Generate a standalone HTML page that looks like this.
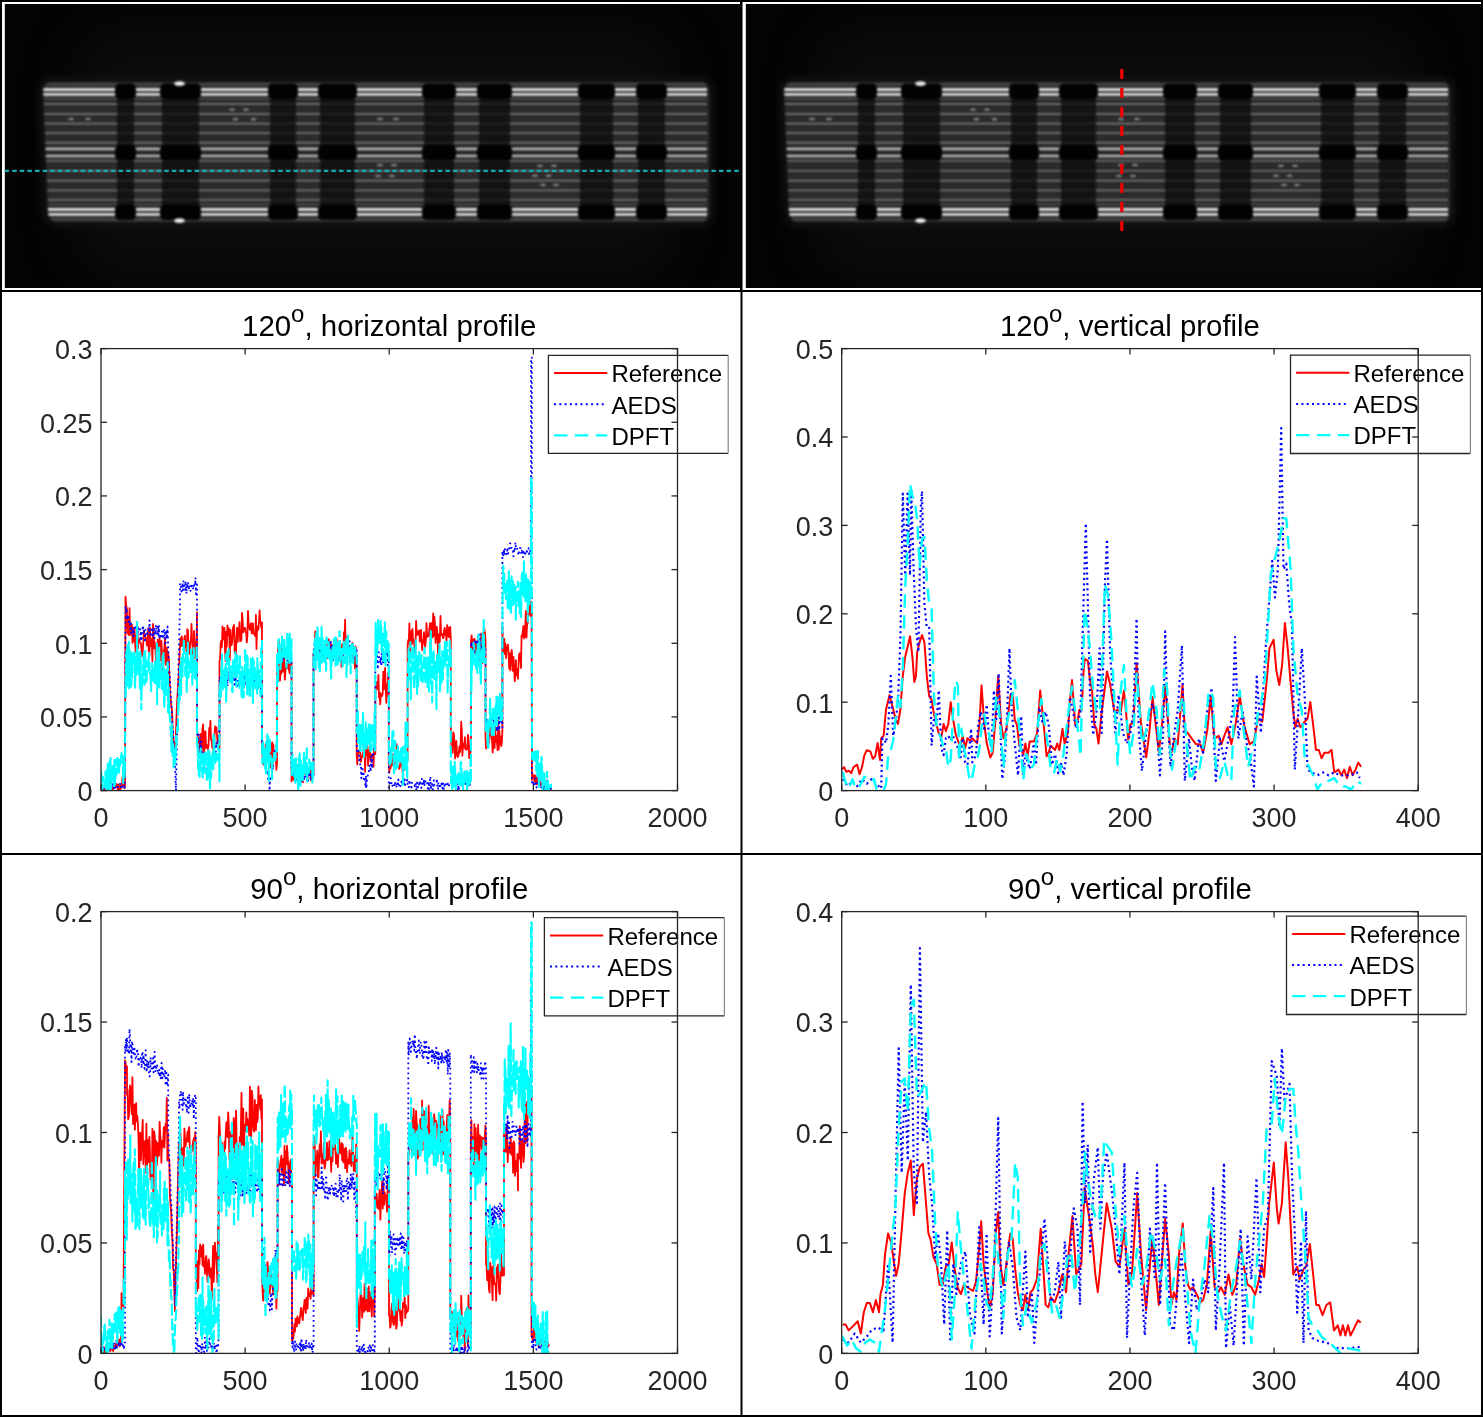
<!DOCTYPE html><html><head><meta charset="utf-8"><title>Profiles</title><style>html,body{margin:0;padding:0;background:#000;overflow:hidden}svg{display:block}</style></head><body><svg width="1483" height="1417" viewBox="0 0 1483 1417" font-family="'Liberation Sans', Arial, Helvetica, sans-serif"><defs><filter id="blur12" color-interpolation-filters="sRGB" x="-30%" y="-80%" width="160%" height="260%"><feGaussianBlur stdDeviation="22"/></filter><filter id="blur4" color-interpolation-filters="sRGB" x="-10%" y="-30%" width="120%" height="160%"><feGaussianBlur stdDeviation="4"/></filter><clipPath id="blkclip"><path d="M52,82.2 L700,82.2 Q709.5,82.2 709.5,92 L709.5,212 Q709.5,221.8 700,221.8 L58,221.8 Q48.5,221.8 48,212 L43.2,92 Q43,82.2 52,82.2 Z"/></clipPath><filter id="blur09" color-interpolation-filters="sRGB" x="-5%" y="-10%" width="110%" height="120%"><feGaussianBlur stdDeviation="0.9"/></filter></defs><rect width="1483" height="1417" fill="#000"/><rect x="2" y="2" width="738" height="288" fill="#fff"/><rect x="742.5" y="2" width="738.5" height="288" fill="#fff"/><rect x="2" y="292" width="738.5" height="561" fill="#fff"/><rect x="742.5" y="292" width="738.5" height="561" fill="#fff"/><rect x="2" y="855" width="738.5" height="560" fill="#fff"/><rect x="742.5" y="855" width="738.5" height="560" fill="#fff"/><clipPath id="c1"><rect x="4.6" y="4" width="736.40" height="284"/></clipPath><g clip-path="url(#c1)"><rect x="4.6" y="4" width="736.40" height="284" fill="#040404"/><g transform="translate(0,0)"><rect x="70" y="25" width="610" height="255" rx="60" fill="#0b0b0b" filter="url(#blur12)"/><path d="M52,82.2 L700,82.2 Q709.5,82.2 709.5,92 L709.5,212 Q709.5,221.8 700,221.8 L58,221.8 Q48.5,221.8 48,212 L43.2,92 Q43,82.2 52,82.2 Z" fill="none" stroke="#1a1a1a" stroke-width="6" filter="url(#blur4)"/><g filter="url(#blur09)"><path d="M52,82.2 L700,82.2 Q709.5,82.2 709.5,92 L709.5,212 Q709.5,221.8 700,221.8 L58,221.8 Q48.5,221.8 48,212 L43.2,92 Q43,82.2 52,82.2 Z" fill="#272727"/><g clip-path="url(#blkclip)"><rect x="40" y="82.60" width="667" height="3.2" fill="#464646"/><rect x="40" y="88.20" width="667" height="2.8" fill="#ececec"/><rect x="40" y="93.00" width="667" height="2.8" fill="#e0e0e0"/><rect x="40" y="98.10" width="667" height="1.4" fill="#5a5a5a"/><rect x="40" y="103.10" width="667" height="1.8" fill="#7c7c7c"/><rect x="40" y="108.90" width="667" height="1.0" fill="#3a3a3a"/><rect x="40" y="113.10" width="667" height="1.8" fill="#7c7c7c"/><rect x="40" y="118.30" width="667" height="1.0" fill="#3a3a3a"/><rect x="40" y="122.70" width="667" height="1.8" fill="#7c7c7c"/><rect x="40" y="127.90" width="667" height="1.0" fill="#383838"/><rect x="40" y="132.10" width="667" height="1.8" fill="#7c7c7c"/><rect x="40" y="137.30" width="667" height="1.0" fill="#383838"/><rect x="40" y="141.80" width="667" height="1.8" fill="#7c7c7c"/><rect x="40" y="147.70" width="667" height="2.4" fill="#c4c4c4"/><rect x="40" y="154.80" width="667" height="2.4" fill="#bcbcbc"/><rect x="40" y="160.00" width="667" height="1.6" fill="#747474"/><rect x="40" y="165.30" width="667" height="1.0" fill="#383838"/><rect x="40" y="170.00" width="667" height="1.6" fill="#747474"/><rect x="40" y="175.30" width="667" height="1.0" fill="#383838"/><rect x="40" y="179.70" width="667" height="1.8" fill="#787878"/><rect x="40" y="185.10" width="667" height="1.0" fill="#383838"/><rect x="40" y="189.50" width="667" height="1.8" fill="#787878"/><rect x="40" y="194.70" width="667" height="1.0" fill="#383838"/><rect x="40" y="198.90" width="667" height="1.8" fill="#787878"/><rect x="40" y="203.70" width="667" height="1.4" fill="#555"/><rect x="40" y="208.00" width="667" height="2.8" fill="#eaeaea"/><rect x="40" y="213.00" width="667" height="2.8" fill="#dedede"/><rect x="40" y="218.00" width="667" height="3.2" fill="#464646"/></g><rect x="117" y="84" width="17" height="136" fill="#0a0a0a" opacity="0.76"/><rect x="115" y="83.5" width="21" height="15.5" rx="5" fill="#020202"/><rect x="115" y="145" width="21" height="15.5" rx="5" fill="#020202"/><rect x="115" y="204.5" width="21" height="15.5" rx="5" fill="#020202"/><rect x="162" y="84" width="37" height="136" fill="#0a0a0a" opacity="0.76"/><rect x="160" y="83.5" width="41" height="15.5" rx="5" fill="#020202"/><rect x="160" y="145" width="41" height="15.5" rx="5" fill="#020202"/><rect x="160" y="204.5" width="41" height="15.5" rx="5" fill="#020202"/><rect x="270" y="84" width="26" height="136" fill="#0a0a0a" opacity="0.76"/><rect x="268" y="83.5" width="30" height="15.5" rx="5" fill="#020202"/><rect x="268" y="145" width="30" height="15.5" rx="5" fill="#020202"/><rect x="268" y="204.5" width="30" height="15.5" rx="5" fill="#020202"/><rect x="320" y="84" width="35" height="136" fill="#0a0a0a" opacity="0.76"/><rect x="318" y="83.5" width="39" height="15.5" rx="5" fill="#020202"/><rect x="318" y="145" width="39" height="15.5" rx="5" fill="#020202"/><rect x="318" y="204.5" width="39" height="15.5" rx="5" fill="#020202"/><rect x="424" y="84" width="30" height="136" fill="#0a0a0a" opacity="0.76"/><rect x="422" y="83.5" width="34" height="15.5" rx="5" fill="#020202"/><rect x="422" y="145" width="34" height="15.5" rx="5" fill="#020202"/><rect x="422" y="204.5" width="34" height="15.5" rx="5" fill="#020202"/><rect x="479" y="84" width="31" height="136" fill="#0a0a0a" opacity="0.76"/><rect x="477" y="83.5" width="35" height="15.5" rx="5" fill="#020202"/><rect x="477" y="145" width="35" height="15.5" rx="5" fill="#020202"/><rect x="477" y="204.5" width="35" height="15.5" rx="5" fill="#020202"/><rect x="580" y="84" width="33" height="136" fill="#0a0a0a" opacity="0.76"/><rect x="578" y="83.5" width="37" height="15.5" rx="5" fill="#020202"/><rect x="578" y="145" width="37" height="15.5" rx="5" fill="#020202"/><rect x="578" y="204.5" width="37" height="15.5" rx="5" fill="#020202"/><rect x="638" y="84" width="27" height="136" fill="#0a0a0a" opacity="0.76"/><rect x="636" y="83.5" width="31" height="15.5" rx="5" fill="#020202"/><rect x="636" y="145" width="31" height="15.5" rx="5" fill="#020202"/><rect x="636" y="204.5" width="31" height="15.5" rx="5" fill="#020202"/><rect x="68.5" y="118.2" width="5" height="1.6" fill="#b0b0b0"/><rect x="85.5" y="118.2" width="5" height="1.6" fill="#b0b0b0"/><rect x="229.5" y="108.8" width="5" height="1.6" fill="#b0b0b0"/><rect x="243.5" y="108.8" width="5" height="1.6" fill="#b0b0b0"/><rect x="233.0" y="118.5" width="5" height="1.6" fill="#b0b0b0"/><rect x="251.0" y="118.5" width="5" height="1.6" fill="#b0b0b0"/><rect x="377.5" y="118.2" width="5" height="1.6" fill="#b0b0b0"/><rect x="393.5" y="118.2" width="5" height="1.6" fill="#b0b0b0"/><rect x="377.5" y="164.2" width="5" height="1.6" fill="#b0b0b0"/><rect x="391.5" y="164.2" width="5" height="1.6" fill="#b0b0b0"/><rect x="375.5" y="175.2" width="5" height="1.6" fill="#b0b0b0"/><rect x="389.5" y="175.2" width="5" height="1.6" fill="#b0b0b0"/><rect x="537.5" y="165.0" width="5" height="1.6" fill="#b0b0b0"/><rect x="551.5" y="165.0" width="5" height="1.6" fill="#b0b0b0"/><rect x="532.5" y="174.89999999999998" width="5" height="1.6" fill="#b0b0b0"/><rect x="546.0" y="174.89999999999998" width="5" height="1.6" fill="#b0b0b0"/><rect x="540.5" y="184.2" width="5" height="1.6" fill="#b0b0b0"/><rect x="553.5" y="184.2" width="5" height="1.6" fill="#b0b0b0"/><ellipse cx="179.5" cy="83.6" rx="5.5" ry="2.3" fill="#eee"/><ellipse cx="179.5" cy="220.6" rx="5.5" ry="2.3" fill="#eee"/></g></g></g><clipPath id="c2"><rect x="745.6" y="4" width="735.40" height="284"/></clipPath><g clip-path="url(#c2)"><rect x="745.6" y="4" width="735.40" height="284" fill="#040404"/><g transform="translate(741,0)"><rect x="70" y="25" width="610" height="255" rx="60" fill="#0b0b0b" filter="url(#blur12)"/><path d="M52,82.2 L700,82.2 Q709.5,82.2 709.5,92 L709.5,212 Q709.5,221.8 700,221.8 L58,221.8 Q48.5,221.8 48,212 L43.2,92 Q43,82.2 52,82.2 Z" fill="none" stroke="#1a1a1a" stroke-width="6" filter="url(#blur4)"/><g filter="url(#blur09)"><path d="M52,82.2 L700,82.2 Q709.5,82.2 709.5,92 L709.5,212 Q709.5,221.8 700,221.8 L58,221.8 Q48.5,221.8 48,212 L43.2,92 Q43,82.2 52,82.2 Z" fill="#272727"/><g clip-path="url(#blkclip)"><rect x="40" y="82.60" width="667" height="3.2" fill="#464646"/><rect x="40" y="88.20" width="667" height="2.8" fill="#ececec"/><rect x="40" y="93.00" width="667" height="2.8" fill="#e0e0e0"/><rect x="40" y="98.10" width="667" height="1.4" fill="#5a5a5a"/><rect x="40" y="103.10" width="667" height="1.8" fill="#7c7c7c"/><rect x="40" y="108.90" width="667" height="1.0" fill="#3a3a3a"/><rect x="40" y="113.10" width="667" height="1.8" fill="#7c7c7c"/><rect x="40" y="118.30" width="667" height="1.0" fill="#3a3a3a"/><rect x="40" y="122.70" width="667" height="1.8" fill="#7c7c7c"/><rect x="40" y="127.90" width="667" height="1.0" fill="#383838"/><rect x="40" y="132.10" width="667" height="1.8" fill="#7c7c7c"/><rect x="40" y="137.30" width="667" height="1.0" fill="#383838"/><rect x="40" y="141.80" width="667" height="1.8" fill="#7c7c7c"/><rect x="40" y="147.70" width="667" height="2.4" fill="#c4c4c4"/><rect x="40" y="154.80" width="667" height="2.4" fill="#bcbcbc"/><rect x="40" y="160.00" width="667" height="1.6" fill="#747474"/><rect x="40" y="165.30" width="667" height="1.0" fill="#383838"/><rect x="40" y="170.00" width="667" height="1.6" fill="#747474"/><rect x="40" y="175.30" width="667" height="1.0" fill="#383838"/><rect x="40" y="179.70" width="667" height="1.8" fill="#787878"/><rect x="40" y="185.10" width="667" height="1.0" fill="#383838"/><rect x="40" y="189.50" width="667" height="1.8" fill="#787878"/><rect x="40" y="194.70" width="667" height="1.0" fill="#383838"/><rect x="40" y="198.90" width="667" height="1.8" fill="#787878"/><rect x="40" y="203.70" width="667" height="1.4" fill="#555"/><rect x="40" y="208.00" width="667" height="2.8" fill="#eaeaea"/><rect x="40" y="213.00" width="667" height="2.8" fill="#dedede"/><rect x="40" y="218.00" width="667" height="3.2" fill="#464646"/></g><rect x="117" y="84" width="17" height="136" fill="#0a0a0a" opacity="0.76"/><rect x="115" y="83.5" width="21" height="15.5" rx="5" fill="#020202"/><rect x="115" y="145" width="21" height="15.5" rx="5" fill="#020202"/><rect x="115" y="204.5" width="21" height="15.5" rx="5" fill="#020202"/><rect x="162" y="84" width="37" height="136" fill="#0a0a0a" opacity="0.76"/><rect x="160" y="83.5" width="41" height="15.5" rx="5" fill="#020202"/><rect x="160" y="145" width="41" height="15.5" rx="5" fill="#020202"/><rect x="160" y="204.5" width="41" height="15.5" rx="5" fill="#020202"/><rect x="270" y="84" width="26" height="136" fill="#0a0a0a" opacity="0.76"/><rect x="268" y="83.5" width="30" height="15.5" rx="5" fill="#020202"/><rect x="268" y="145" width="30" height="15.5" rx="5" fill="#020202"/><rect x="268" y="204.5" width="30" height="15.5" rx="5" fill="#020202"/><rect x="320" y="84" width="35" height="136" fill="#0a0a0a" opacity="0.76"/><rect x="318" y="83.5" width="39" height="15.5" rx="5" fill="#020202"/><rect x="318" y="145" width="39" height="15.5" rx="5" fill="#020202"/><rect x="318" y="204.5" width="39" height="15.5" rx="5" fill="#020202"/><rect x="424" y="84" width="30" height="136" fill="#0a0a0a" opacity="0.76"/><rect x="422" y="83.5" width="34" height="15.5" rx="5" fill="#020202"/><rect x="422" y="145" width="34" height="15.5" rx="5" fill="#020202"/><rect x="422" y="204.5" width="34" height="15.5" rx="5" fill="#020202"/><rect x="479" y="84" width="31" height="136" fill="#0a0a0a" opacity="0.76"/><rect x="477" y="83.5" width="35" height="15.5" rx="5" fill="#020202"/><rect x="477" y="145" width="35" height="15.5" rx="5" fill="#020202"/><rect x="477" y="204.5" width="35" height="15.5" rx="5" fill="#020202"/><rect x="580" y="84" width="33" height="136" fill="#0a0a0a" opacity="0.76"/><rect x="578" y="83.5" width="37" height="15.5" rx="5" fill="#020202"/><rect x="578" y="145" width="37" height="15.5" rx="5" fill="#020202"/><rect x="578" y="204.5" width="37" height="15.5" rx="5" fill="#020202"/><rect x="638" y="84" width="27" height="136" fill="#0a0a0a" opacity="0.76"/><rect x="636" y="83.5" width="31" height="15.5" rx="5" fill="#020202"/><rect x="636" y="145" width="31" height="15.5" rx="5" fill="#020202"/><rect x="636" y="204.5" width="31" height="15.5" rx="5" fill="#020202"/><rect x="68.5" y="118.2" width="5" height="1.6" fill="#b0b0b0"/><rect x="85.5" y="118.2" width="5" height="1.6" fill="#b0b0b0"/><rect x="229.5" y="108.8" width="5" height="1.6" fill="#b0b0b0"/><rect x="243.5" y="108.8" width="5" height="1.6" fill="#b0b0b0"/><rect x="233.0" y="118.5" width="5" height="1.6" fill="#b0b0b0"/><rect x="251.0" y="118.5" width="5" height="1.6" fill="#b0b0b0"/><rect x="377.5" y="118.2" width="5" height="1.6" fill="#b0b0b0"/><rect x="393.5" y="118.2" width="5" height="1.6" fill="#b0b0b0"/><rect x="377.5" y="164.2" width="5" height="1.6" fill="#b0b0b0"/><rect x="391.5" y="164.2" width="5" height="1.6" fill="#b0b0b0"/><rect x="375.5" y="175.2" width="5" height="1.6" fill="#b0b0b0"/><rect x="389.5" y="175.2" width="5" height="1.6" fill="#b0b0b0"/><rect x="537.5" y="165.0" width="5" height="1.6" fill="#b0b0b0"/><rect x="551.5" y="165.0" width="5" height="1.6" fill="#b0b0b0"/><rect x="532.5" y="174.89999999999998" width="5" height="1.6" fill="#b0b0b0"/><rect x="546.0" y="174.89999999999998" width="5" height="1.6" fill="#b0b0b0"/><rect x="540.5" y="184.2" width="5" height="1.6" fill="#b0b0b0"/><rect x="553.5" y="184.2" width="5" height="1.6" fill="#b0b0b0"/><ellipse cx="179.5" cy="83.6" rx="5.5" ry="2.3" fill="#eee"/><ellipse cx="179.5" cy="220.6" rx="5.5" ry="2.3" fill="#eee"/></g></g></g><line x1="4.6" y1="170.9" x2="741" y2="170.9" stroke="#1aa8a8" stroke-width="2.4" stroke-dasharray="4.5 3.1"/><line x1="1121.8" y1="68.9" x2="1121.8" y2="231" stroke="#f00000" stroke-width="3.2" stroke-dasharray="10.2 8.8"/><clipPath id="clML"><rect x="101.0" y="346.6" width="576.5" height="444.0"/></clipPath><g clip-path="url(#clML)"><polyline points="101.0,790.6 101.6,789.5 102.2,787.7 102.8,790.6 103.4,790.6 104.0,790.0 104.6,788.4 105.2,786.7 105.8,790.6 106.4,790.6 107.0,787.3 107.6,787.7 108.2,784.8 108.8,786.1 109.4,788.8 110.0,789.1 110.6,781.4 111.2,788.9 111.8,790.0 112.4,790.6 113.0,787.4 113.6,787.1 114.2,788.3 114.8,787.4 115.4,786.3 116.0,785.1 116.6,783.9 117.2,786.1 117.8,790.6 118.4,784.5 119.0,789.9 119.6,786.5 120.2,789.8 120.8,785.7 121.4,787.7 122.0,784.9 122.6,776.5 123.2,785.3 123.8,782.8 124.4,788.4 125.0,785.5 125.5,596.7 126.2,605.3 127.0,609.5 127.0,620.1 127.6,633.5 128.2,618.6 128.8,634.9 129.5,608.1 130.1,635.0 130.7,624.1 131.3,633.0 131.9,624.7 132.5,642.9 133.2,627.6 133.8,641.2 134.4,628.2 135.0,636.6 135.0,641.8 135.6,651.8 136.2,635.6 136.8,638.9 137.4,626.7 138.0,648.3 138.6,638.7 139.2,639.4 139.8,642.0 140.4,643.0 141.0,643.5 141.6,652.0 142.2,656.6 142.8,650.3 143.4,640.0 144.0,630.5 144.6,636.3 145.2,635.7 145.8,638.9 146.4,639.9 147.0,645.6 147.6,639.6 148.2,629.2 148.8,651.7 149.4,655.8 150.0,627.8 150.6,646.2 151.2,638.8 151.8,640.0 152.4,661.5 153.0,623.9 153.6,631.1 154.2,648.2 154.8,642.4 155.4,649.2 156.0,660.1 156.6,652.2 157.2,647.2 157.8,639.6 158.4,644.1 159.0,651.2 159.6,637.7 160.2,660.3 160.8,644.1 161.4,640.9 162.0,656.0 162.6,672.1 163.2,663.0 163.8,651.0 164.4,648.2 165.0,637.6 165.6,664.8 166.2,654.4 166.8,647.7 167.4,656.5 168.0,680.2 168.0,652.2 168.7,657.5 169.3,672.7 170.0,690.1 170.6,698.9 171.3,707.3 172.0,709.9 172.6,727.1 173.3,739.5 173.9,745.0 174.6,761.4 174.6,754.6 175.2,750.5 175.8,736.6 176.4,719.3 177.0,703.7 177.6,693.3 178.2,681.5 178.8,675.9 179.4,658.9 180.0,645.4 180.0,648.0 180.6,638.1 181.2,646.2 181.8,636.3 182.4,642.5 183.0,646.2 183.6,642.2 184.2,639.5 184.9,635.7 185.5,647.5 186.1,645.3 186.7,655.3 187.3,629.1 187.9,630.4 188.5,644.8 189.1,647.5 189.7,654.2 190.3,641.8 190.9,641.4 191.5,624.0 192.1,641.1 192.8,650.1 193.4,664.9 194.0,630.8 194.6,641.6 195.2,657.5 195.8,641.7 196.4,657.5 197.0,612.5 197.0,729.1 197.6,734.0 198.2,740.6 198.8,757.9 199.4,740.2 200.0,752.8 200.6,733.8 201.3,757.9 201.9,747.1 202.5,728.3 203.1,724.5 203.7,749.5 204.3,752.6 204.9,731.3 205.5,731.5 206.1,747.8 206.7,745.2 207.3,745.2 207.9,749.5 208.6,745.0 209.2,728.0 209.8,732.9 210.4,720.9 211.0,739.8 211.6,740.2 212.2,747.7 212.8,740.1 213.4,750.6 214.0,754.7 214.6,732.9 215.2,726.3 215.9,731.6 216.5,727.3 217.1,736.8 217.7,745.4 218.3,738.3 218.9,742.3 219.5,748.9 219.5,661.2 220.1,658.7 220.7,642.7 221.3,640.7 221.9,647.0 222.5,626.5 223.1,639.5 223.8,634.9 224.4,627.8 225.0,649.1 225.6,661.0 226.2,631.8 226.8,646.8 227.4,625.3 228.0,635.3 228.6,627.9 229.2,630.1 229.8,660.0 230.4,630.0 231.0,644.4 231.6,645.0 232.2,641.3 232.9,628.2 233.5,626.6 234.1,625.0 234.7,653.0 235.3,641.3 235.9,659.9 236.5,635.5 237.1,627.7 237.7,641.9 238.3,630.9 238.9,630.7 239.5,622.2 240.1,641.2 240.8,641.0 241.4,640.0 242.0,613.0 242.6,619.7 243.2,632.3 243.8,628.2 244.4,629.1 245.0,627.9 245.6,631.9 246.2,632.9 246.8,642.4 247.4,635.6 248.0,610.9 248.6,622.4 249.2,627.1 249.9,629.8 250.5,626.5 251.1,623.1 251.7,633.4 252.3,624.1 252.9,623.4 253.5,633.5 254.1,633.6 254.7,635.6 255.3,635.9 255.9,614.9 256.5,649.0 257.1,626.5 257.8,629.9 258.4,629.6 259.0,621.7 259.6,610.5 260.2,621.3 260.8,623.3 261.4,628.0 262.0,622.5 262.0,745.7 262.6,757.3 263.2,763.9 263.8,764.9 264.4,763.6 265.0,766.1 265.6,744.1 266.2,750.6 266.8,755.9 267.4,740.9 268.0,759.6 268.6,747.1 269.2,746.7 269.8,767.4 270.4,767.5 271.0,762.0 271.6,745.8 272.2,742.3 272.8,764.6 273.4,744.5 274.0,757.2 274.6,757.2 275.2,758.6 275.8,756.6 276.4,769.8 277.0,762.6 277.0,676.3 277.6,661.0 278.2,646.9 278.8,641.2 279.4,668.3 280.0,680.6 280.6,669.0 281.2,673.7 281.8,647.8 282.4,660.3 283.0,671.8 283.6,657.1 284.2,660.6 284.9,679.7 285.5,670.1 286.1,667.5 286.7,665.2 287.3,664.2 287.9,668.4 288.5,663.7 289.1,670.5 289.7,673.3 290.3,652.0 290.9,662.2 291.5,661.5 291.5,781.4 292.1,773.8 292.7,768.6 293.3,779.8 293.9,767.1 294.6,775.0 295.2,770.8 295.8,773.6 296.4,771.8 297.0,766.5 297.6,775.1 298.2,764.6 298.8,777.1 299.4,777.9 300.1,769.1 300.7,778.6 301.3,774.9 301.9,768.1 302.5,766.5 303.1,782.3 303.7,770.2 304.3,762.9 304.9,766.6 305.6,774.2 306.2,776.1 306.8,774.5 307.4,779.0 308.0,774.3 308.6,773.9 309.2,773.7 309.8,766.6 310.4,774.1 311.1,780.7 311.7,767.3 312.3,778.6 312.9,775.3 313.5,773.6 313.5,653.7 314.1,659.5 314.7,652.8 315.3,631.3 315.9,656.0 316.5,651.8 317.2,640.7 317.8,644.1 318.4,643.9 319.0,643.0 319.6,668.0 320.2,658.3 320.8,649.5 321.4,646.2 322.0,639.2 322.6,646.5 323.2,652.7 323.8,650.3 324.5,652.5 325.1,648.4 325.7,644.7 326.3,653.6 326.9,657.8 327.5,658.2 328.1,640.9 328.7,639.3 329.3,641.9 329.9,643.1 330.5,643.3 331.1,650.7 331.8,644.8 332.4,659.9 333.0,652.4 333.6,657.1 334.2,644.2 334.8,655.8 335.4,651.6 336.0,647.1 336.6,638.7 337.2,657.6 337.8,658.9 338.4,643.4 339.1,660.4 339.7,646.6 340.3,655.7 340.9,651.6 341.5,666.7 342.1,644.3 342.7,655.1 343.3,658.6 343.9,632.3 344.5,644.3 345.1,619.6 345.7,647.0 346.4,653.7 347.0,649.7 347.6,636.4 348.2,650.9 348.8,646.6 349.4,646.1 350.0,658.7 350.6,649.5 351.2,655.1 351.8,661.6 352.4,642.9 353.0,644.7 353.7,650.0 354.3,658.7 354.9,668.4 355.5,646.3 356.1,651.5 356.7,665.5 356.7,754.2 357.3,764.5 357.9,754.0 358.5,752.8 359.1,751.3 359.7,752.2 360.3,752.6 360.9,761.8 361.5,756.5 362.1,757.4 362.7,755.4 363.3,751.9 363.9,749.4 364.5,742.2 365.1,771.9 365.7,750.9 366.3,755.2 366.9,737.7 367.5,747.2 368.1,765.5 368.7,750.9 369.3,757.4 369.9,746.7 370.5,761.2 371.1,754.5 371.7,754.7 372.3,754.5 372.9,757.9 373.5,766.8 374.1,750.5 374.7,746.7 375.3,754.2 375.3,696.5 375.9,685.7 376.5,682.5 377.1,689.0 377.8,687.6 378.4,675.0 379.0,697.4 379.6,692.4 380.2,704.3 380.8,693.7 381.4,694.0 382.1,696.0 382.7,693.6 383.3,671.6 383.9,689.2 384.5,688.5 385.1,668.0 385.7,688.0 386.3,702.8 387.0,683.9 387.6,695.8 388.2,673.0 388.8,698.5 388.8,765.2 389.4,772.5 390.0,760.4 390.6,768.3 391.2,761.6 391.8,763.8 392.4,765.5 393.0,754.5 393.7,754.5 394.3,760.7 394.9,767.5 395.5,768.7 396.1,759.2 396.7,744.2 397.3,764.4 397.9,766.7 398.5,766.1 399.1,768.9 399.7,768.0 400.3,762.6 400.9,751.0 401.5,761.1 402.1,764.7 402.7,772.6 403.4,759.6 404.0,761.3 404.6,769.8 405.2,768.8 405.8,761.4 406.4,754.0 407.0,756.7 407.6,759.7 407.6,646.1 408.2,640.2 408.8,643.0 409.4,623.4 410.0,652.4 410.6,645.5 411.3,630.8 411.9,644.2 412.5,629.0 413.1,641.8 413.7,639.9 414.3,644.3 414.9,653.0 415.5,649.1 416.1,620.8 416.7,634.4 417.3,634.6 417.9,631.3 418.6,634.5 419.2,630.3 419.8,641.5 420.4,640.9 421.0,630.0 421.6,641.6 422.2,650.0 422.8,640.1 423.4,642.7 424.0,632.2 424.6,643.8 425.2,646.6 425.9,640.0 426.5,623.1 427.1,637.0 427.7,635.0 428.3,636.1 428.9,633.4 429.5,627.6 430.1,623.2 430.7,649.9 431.3,623.1 431.9,635.0 432.5,637.6 433.2,613.3 433.8,635.8 434.4,616.9 435.0,625.4 435.6,642.8 436.2,629.2 436.8,626.8 437.4,634.2 438.0,653.5 438.6,635.7 439.2,634.2 439.8,642.1 440.5,615.9 441.1,634.0 441.7,635.1 442.3,634.1 442.9,638.2 443.5,637.9 444.1,630.0 444.7,627.8 445.3,634.9 445.9,631.0 446.5,642.3 447.1,625.2 447.8,636.2 448.4,627.5 449.0,637.2 449.6,633.5 450.2,626.8 450.8,639.2 450.8,724.6 451.4,746.7 452.0,747.0 452.6,752.9 453.2,732.3 453.9,734.1 454.5,743.8 455.1,758.5 455.7,750.9 456.3,741.0 456.9,750.9 457.5,756.9 458.1,756.9 458.8,753.2 459.4,746.3 460.0,752.1 460.6,746.2 461.2,721.7 461.8,730.7 462.4,755.6 463.0,743.4 463.7,745.6 464.3,747.6 464.9,737.2 465.5,749.3 466.1,749.3 466.7,749.7 467.3,747.3 467.9,735.0 468.6,739.5 469.2,758.3 469.8,750.3 470.4,753.5 471.0,739.2 471.0,641.3 471.6,635.4 472.2,643.8 472.8,660.1 473.4,639.3 474.0,641.3 474.6,638.8 475.2,654.8 475.8,642.5 476.4,649.3 477.0,649.3 477.6,640.1 478.2,640.2 478.9,651.2 479.5,658.4 480.1,665.1 480.7,648.4 481.3,633.3 481.9,643.8 482.5,663.2 483.1,650.9 483.7,639.5 484.3,628.5 484.9,632.9 485.5,640.0 485.5,737.3 486.1,748.4 486.7,743.0 487.3,742.0 487.9,745.9 488.5,738.5 489.1,742.5 489.7,736.1 490.3,726.4 490.9,732.5 491.5,735.3 492.1,741.2 492.7,752.5 493.3,740.0 493.9,734.2 494.6,747.9 495.2,727.9 495.8,742.0 496.4,735.7 497.0,741.9 497.6,750.1 498.2,720.8 498.8,749.3 499.4,730.9 500.0,743.9 500.6,736.6 501.2,746.2 501.8,742.7 502.4,730.9 502.4,626.1 503.0,652.1 503.6,645.9 504.3,638.9 504.9,654.2 505.5,643.7 506.1,658.2 506.7,647.3 507.3,650.1 508.0,644.6 508.6,653.4 509.2,668.5 509.8,653.5 510.4,670.4 511.1,655.4 511.7,650.0 512.3,659.4 512.9,670.9 513.5,656.8 514.1,667.2 514.8,681.1 515.4,674.5 516.0,660.2 516.0,675.4 516.6,668.7 517.2,669.9 517.9,678.8 518.5,665.5 519.1,654.8 519.7,653.2 520.3,653.6 521.0,668.0 521.6,635.4 522.2,636.9 522.8,631.3 523.4,625.9 524.1,638.4 524.7,636.8 525.3,625.8 525.9,610.8 526.5,637.5 527.2,621.7 527.8,623.1 528.4,608.9 529.0,597.9 529.6,610.5 530.3,615.9 530.9,601.6 531.5,601.6 532.0,780.0 532.6,774.0 533.2,778.2 533.8,775.5 534.5,781.3 535.1,775.3 535.7,782.5 536.3,776.4 536.9,784.5 537.5,776.5 538.1,781.6 538.7,785.2 539.4,782.2 540.0,781.2 540.6,785.1 541.2,784.3 541.8,782.8 542.4,784.4 543.0,790.6 543.6,786.0 544.3,784.2 544.9,785.1 545.5,783.6 546.1,788.6 546.7,780.5 547.3,785.6 547.9,787.4 548.5,785.8 549.2,786.6 549.8,789.4 550.4,790.6 551.0,787.9" fill="none" stroke="#f00" stroke-width="1.8" stroke-linejoin="round"/><polyline points="101.0,790.6 101.5,790.1 102.0,790.6 102.5,790.6 103.0,788.4 103.5,789.9 104.0,790.3 104.5,786.6 105.0,790.5 105.5,790.6 106.0,790.6 106.5,790.2 107.0,788.0 107.5,787.5 108.0,786.9 108.5,785.5 109.0,785.6 109.5,787.3 110.0,786.0 110.5,787.0 111.0,789.1 111.5,786.5 112.0,787.7 112.5,788.1 113.0,784.0 113.5,786.1 114.0,788.2 114.5,787.3 115.0,782.9 115.5,787.4 116.0,785.5 116.5,785.6 117.0,785.7 117.5,785.4 118.0,787.2 118.5,787.0 119.0,786.4 119.5,786.6 120.0,784.4 120.5,783.0 121.0,787.2 121.5,784.5 122.0,787.1 122.5,786.5 123.0,785.5 123.5,784.8 124.0,785.6 124.5,789.4 125.0,782.1 125.5,607.2 126.0,610.7 126.5,608.1 127.0,614.8 127.5,619.9 128.0,615.2 128.5,617.6 129.0,624.2 129.5,620.4 130.0,624.2 130.5,631.7 131.0,623.5 131.0,630.3 131.5,635.4 132.0,629.7 132.5,630.9 133.0,628.0 133.5,636.3 134.0,627.8 134.5,628.2 135.0,629.1 135.5,629.5 136.0,627.0 136.5,629.1 137.0,631.3 137.5,634.8 138.0,627.9 138.5,628.4 139.0,630.9 139.5,631.4 140.0,629.4 140.5,641.1 141.0,630.9 141.5,641.1 142.0,631.3 142.5,628.4 143.0,625.5 143.5,634.0 144.0,630.8 144.5,632.6 145.0,640.4 145.5,629.8 146.0,632.6 146.5,632.3 147.0,636.0 147.5,632.8 148.0,632.4 148.5,628.1 149.0,631.7 149.5,620.3 150.0,634.3 150.5,633.8 151.0,633.1 151.5,635.8 152.0,627.6 152.5,630.7 153.0,637.6 153.5,632.7 154.0,629.0 154.5,638.3 155.0,632.7 155.5,634.1 156.0,624.9 156.5,631.9 157.0,634.8 157.5,635.4 158.0,626.7 158.5,635.2 159.0,625.4 159.5,639.2 160.0,634.3 160.5,634.5 161.0,636.2 161.5,634.5 162.0,631.3 162.5,636.2 163.0,639.0 163.5,629.1 164.0,628.7 164.5,636.5 165.0,632.9 165.5,643.3 166.0,630.4 166.5,638.9 167.0,636.2 167.5,626.5 168.0,638.8 168.0,643.1 168.5,655.0 169.0,666.0 169.5,673.1 170.0,678.1 170.5,691.3 171.0,698.3 171.5,703.7 172.0,715.0 172.5,727.1 173.0,728.4 173.5,741.1 174.0,746.6 174.5,762.1 175.0,763.7 175.5,780.7 176.0,790.6 176.0,787.2 176.5,763.7 177.0,738.6 177.5,717.4 178.0,690.8 178.5,665.5 179.0,647.5 179.5,626.0 180.0,600.0 180.0,583.4 180.5,583.4 181.0,588.6 181.5,591.5 182.0,587.2 182.5,582.8 183.0,590.3 183.5,581.3 184.0,586.1 184.5,585.8 185.0,589.9 185.5,581.0 186.0,586.9 186.5,593.8 187.0,583.4 187.5,589.0 188.0,582.3 188.5,586.3 189.0,589.9 189.5,586.3 190.0,589.3 190.5,590.8 191.0,587.0 191.5,583.4 192.0,586.8 192.5,587.5 193.0,589.6 193.5,584.5 194.0,585.9 194.5,582.8 195.0,585.4 195.5,577.5 196.0,594.1 196.5,587.3 197.0,584.7 197.0,726.6 197.5,741.7 198.0,742.0 198.5,737.7 199.0,733.8 199.6,735.6 200.1,751.6 200.6,744.8 201.1,741.2 201.6,749.4 202.1,757.1 202.6,757.4 203.1,762.7 203.6,751.1 204.2,761.0 204.7,763.9 205.2,768.3 205.7,766.3 206.2,772.5 206.7,774.9 207.2,771.8 207.7,774.9 208.2,773.2 208.2,774.9 208.8,767.3 209.3,771.9 209.8,768.2 210.3,766.4 210.8,769.9 211.3,757.2 211.8,764.6 212.3,768.1 212.9,750.9 213.4,752.0 213.9,756.6 214.4,746.4 214.9,744.4 215.4,743.7 215.9,751.8 216.4,742.6 216.9,747.1 217.5,742.8 218.0,740.5 218.5,740.0 219.0,730.8 219.5,735.7 219.5,677.1 220.0,679.2 220.5,682.6 221.0,679.2 221.5,676.8 222.0,674.8 222.5,681.1 223.0,672.2 223.5,677.4 224.0,674.4 224.5,686.0 225.0,684.6 225.5,674.5 226.0,680.9 226.5,677.8 227.0,674.6 227.5,686.4 228.0,677.9 228.5,671.3 229.0,676.3 229.5,679.5 230.0,677.4 230.5,679.9 231.0,676.5 231.5,674.1 232.0,680.9 232.5,677.4 233.0,678.6 233.5,676.6 234.0,676.2 234.5,684.7 235.0,674.7 235.5,676.1 236.0,684.8 236.5,681.2 237.0,686.4 237.5,681.2 238.0,678.5 238.5,685.1 239.0,683.4 239.5,683.8 240.0,683.0 240.5,683.4 241.0,684.7 241.5,677.4 242.0,680.9 242.5,683.6 243.0,675.5 243.5,682.4 244.0,675.9 244.5,685.4 245.0,673.7 245.5,681.9 246.0,684.1 246.5,678.1 247.0,685.9 247.5,684.7 248.0,678.9 248.5,682.1 249.0,678.1 249.5,679.3 250.0,678.8 250.5,679.3 251.0,676.8 251.5,679.9 252.0,675.0 252.5,675.7 253.0,688.7 253.5,687.7 254.0,673.0 254.5,681.9 255.0,679.1 255.5,680.4 256.0,678.7 256.5,670.1 257.0,683.1 257.5,679.6 258.0,679.9 258.5,684.7 259.0,683.8 259.5,681.1 260.0,680.0 260.5,678.2 261.0,688.7 261.5,686.9 262.0,672.6 262.0,746.9 262.5,745.8 263.0,752.7 263.5,756.2 264.0,748.6 264.5,762.9 265.0,764.2 265.5,761.0 266.0,765.8 266.5,774.2 267.0,770.3 267.5,770.7 268.0,781.2 268.5,780.2 269.0,777.8 269.5,776.3 269.5,790.6 270.0,783.1 270.5,778.1 271.0,779.0 271.5,776.5 272.0,772.6 272.5,766.5 273.0,769.7 273.5,760.4 274.0,758.0 274.5,755.5 275.0,750.6 275.5,755.5 276.0,751.4 276.5,745.2 277.0,741.8 277.0,653.7 277.5,659.8 278.0,660.0 278.5,663.7 279.0,659.8 279.5,661.8 280.0,660.0 280.5,659.5 281.0,654.2 281.5,654.0 282.0,658.1 282.5,662.9 283.0,658.1 283.5,655.9 284.0,654.0 284.5,656.9 285.0,654.3 285.5,660.8 286.0,655.0 286.5,654.6 287.0,659.4 287.5,661.2 288.0,652.4 288.5,662.3 289.0,654.8 289.5,659.0 290.0,659.4 290.5,659.0 291.0,659.8 291.5,658.0 291.5,769.4 292.0,770.6 292.5,776.2 293.0,774.1 293.5,772.5 294.0,777.2 294.5,769.2 295.0,775.6 295.5,773.5 296.0,779.1 296.5,779.7 297.0,779.3 297.5,778.0 298.0,772.1 298.5,776.9 299.0,772.6 299.5,777.2 300.0,779.1 300.5,775.1 301.0,777.1 301.5,781.6 302.0,775.6 302.5,771.6 303.0,776.5 303.5,780.0 304.0,778.4 304.5,780.0 305.0,776.6 305.5,779.1 306.0,776.1 306.5,775.1 307.0,771.0 307.5,779.8 308.0,783.0 308.5,770.0 309.0,774.2 309.5,777.0 310.0,774.0 310.5,779.0 311.0,776.9 311.5,773.3 312.0,776.9 312.5,775.3 313.0,774.2 313.5,775.3 313.5,651.7 314.0,647.7 314.5,643.4 315.0,643.7 315.5,655.1 316.0,646.4 316.5,660.6 317.0,658.0 317.5,648.3 318.0,647.6 318.5,643.2 319.0,659.6 319.5,644.7 320.0,653.3 320.5,652.9 321.0,648.1 321.5,643.0 322.0,655.4 322.5,659.5 323.0,653.6 323.5,651.1 324.0,644.1 324.6,648.5 325.1,652.0 325.6,653.1 326.1,652.9 326.6,645.3 327.1,659.3 327.6,654.1 328.1,655.1 328.6,644.5 329.1,649.8 329.6,654.0 330.1,646.5 330.6,640.1 331.1,645.0 331.6,657.4 332.1,651.6 332.6,644.4 333.1,660.1 333.6,657.0 334.1,652.7 334.6,647.7 335.1,654.8 335.6,649.7 336.1,651.3 336.6,648.8 337.1,656.9 337.6,662.3 338.1,661.9 338.6,649.6 339.1,645.3 339.6,647.9 340.1,659.0 340.6,659.7 341.1,652.0 341.6,655.4 342.1,660.2 342.6,653.6 343.1,654.7 343.6,651.1 344.1,648.5 344.6,649.5 345.1,649.5 345.6,647.7 346.2,651.1 346.7,652.9 347.2,652.3 347.7,644.2 348.2,652.0 348.7,646.2 349.2,641.7 349.7,641.3 350.2,661.9 350.7,649.7 351.2,645.3 351.7,652.9 352.2,654.3 352.7,658.1 353.2,654.1 353.7,650.5 354.2,660.5 354.7,650.6 355.2,655.0 355.7,650.4 356.2,656.3 356.7,650.1 356.7,745.6 357.2,751.5 357.7,753.5 358.2,748.5 358.8,752.1 359.3,760.4 359.8,757.2 360.3,766.3 360.8,765.6 361.4,778.4 361.9,770.1 362.4,766.7 362.9,774.0 363.4,771.4 363.9,779.0 364.4,776.9 365.0,781.0 365.5,786.8 366.0,775.4 366.0,788.4 366.5,788.5 367.0,779.8 367.6,776.2 368.1,774.6 368.6,774.5 369.1,769.8 369.6,765.6 370.1,764.9 370.6,771.6 371.2,755.7 371.7,761.4 372.2,768.2 372.7,753.3 373.2,755.5 373.8,751.5 374.3,741.8 374.8,750.8 375.3,749.1 375.3,663.1 375.8,656.9 376.3,654.4 376.8,655.9 377.3,657.0 377.8,669.2 378.3,656.5 378.8,652.2 379.3,660.6 379.8,660.8 380.3,663.3 380.8,656.6 381.3,666.2 381.8,647.8 382.3,659.0 382.8,661.1 383.3,664.4 383.8,655.1 384.3,652.8 384.8,660.9 385.3,657.0 385.8,656.4 386.3,652.8 386.8,654.7 387.3,651.4 387.8,665.4 388.3,644.1 388.8,660.6 388.8,787.6 389.3,787.1 389.8,783.6 390.3,782.6 390.8,778.2 391.3,781.4 391.8,786.7 392.3,785.6 392.8,785.9 393.3,786.3 393.8,785.1 394.3,786.3 394.8,781.6 395.3,783.8 395.8,783.0 396.3,785.1 396.8,787.7 397.3,783.5 397.8,785.7 398.3,779.4 398.8,781.4 399.3,787.9 399.8,787.3 400.3,786.1 400.8,785.2 401.3,781.6 401.8,785.1 402.3,783.5 402.8,785.5 403.3,785.2 403.8,781.4 404.3,784.6 404.8,779.5 405.3,784.8 405.8,783.6 406.3,783.6 406.8,782.9 407.3,779.6 407.8,786.5 408.3,786.1 408.8,787.2 409.4,779.9 409.9,783.4 410.4,783.5 410.9,783.4 411.4,789.6 411.9,782.6 412.4,784.3 412.9,783.8 413.4,784.4 413.9,784.9 414.4,784.9 414.9,786.2 415.4,785.3 415.9,783.0 416.4,790.3 416.9,782.5 417.4,782.9 417.9,787.5 418.4,783.3 418.9,783.8 419.4,786.0 419.9,780.2 420.4,784.2 420.9,785.0 421.4,788.1 421.9,778.9 422.4,784.1 422.9,783.8 423.4,785.3 423.9,779.2 424.4,785.1 424.9,780.5 425.4,781.9 425.9,782.1 426.4,783.0 426.9,781.6 427.4,785.0 427.9,790.1 428.4,790.6 428.9,781.7 429.4,790.1 429.9,781.1 430.4,776.5 430.9,789.7 431.4,783.0 431.9,783.4 432.4,786.5 432.9,789.9 433.4,784.9 433.9,780.2 434.4,784.9 434.9,784.7 435.4,784.4 435.9,784.5 436.4,783.9 436.9,778.6 437.4,787.0 437.9,789.5 438.4,782.4 438.9,786.0 439.4,786.0 439.9,788.4 440.4,785.1 440.9,785.8 441.4,783.5 441.9,785.7 442.4,788.5 442.9,783.3 443.4,784.9 443.9,789.7 444.4,785.6 444.9,782.6 445.4,784.8 445.9,785.5 446.4,783.1 446.9,786.4 447.4,786.5 447.9,783.3 448.4,785.1 448.9,786.3 449.4,784.1 449.9,784.0 450.4,782.2 451.0,782.0 451.5,784.4 452.0,784.7 452.5,787.1 453.0,784.1 453.5,785.6 454.0,782.4 454.5,782.5 455.0,783.0 455.5,784.8 456.0,783.8 456.5,780.7 457.0,780.1 457.5,786.2 458.0,790.6 458.5,783.0 459.0,788.7 459.5,784.5 460.0,783.4 460.5,780.7 461.0,785.1 461.5,785.0 462.0,786.2 462.5,783.9 463.0,787.9 463.5,783.2 464.0,783.8 464.5,781.1 465.0,785.5 465.5,783.8 466.0,784.1 466.5,784.7 467.0,787.2 467.5,786.1 468.0,784.5 468.5,783.4 469.0,781.9 469.5,786.2 470.0,784.0 470.5,783.0 471.0,782.4 471.0,642.1 471.5,642.2 472.0,644.7 472.5,643.0 473.0,644.0 473.5,650.8 474.0,646.3 474.5,653.7 475.0,640.9 475.5,639.3 476.0,644.7 476.5,642.4 477.0,642.5 477.5,644.2 478.0,636.7 478.5,644.0 479.0,641.7 479.5,643.4 480.0,634.3 480.5,650.3 481.0,642.2 481.5,649.0 482.0,646.3 482.5,647.3 483.0,639.8 483.5,647.9 484.0,647.6 484.5,644.6 485.0,647.3 485.5,647.5 485.5,717.2 486.0,727.1 486.5,727.7 487.0,718.1 487.5,723.8 488.1,719.3 488.6,731.3 489.1,725.5 489.6,722.1 490.1,723.2 490.6,721.8 491.1,718.7 491.6,721.6 492.2,719.3 492.7,720.9 493.2,727.5 493.7,723.3 494.2,718.4 494.7,728.3 495.2,721.8 495.7,721.4 496.3,718.3 496.8,731.5 497.3,713.7 497.8,731.0 498.3,724.2 498.8,713.0 499.3,730.1 499.8,714.3 500.4,722.9 500.9,715.7 501.4,717.8 501.9,723.5 502.4,727.6 502.4,551.4 502.9,554.9 503.4,555.2 503.9,549.0 504.4,555.4 504.9,549.1 505.4,550.6 505.9,550.8 506.4,554.0 506.9,554.7 507.4,547.5 507.9,553.7 508.4,552.4 508.9,551.0 509.4,547.9 509.9,543.4 510.4,543.4 510.9,547.6 511.4,548.0 511.9,548.0 512.4,551.1 512.9,551.1 513.4,556.4 513.9,548.4 514.4,552.1 514.9,549.0 515.4,542.4 515.9,547.3 516.4,546.3 517.0,547.2 517.5,552.3 518.0,552.6 518.5,555.5 519.0,552.4 519.5,549.8 520.0,547.9 520.5,548.3 521.0,551.6 521.5,554.3 522.0,550.2 522.5,549.2 523.0,557.3 523.5,550.0 524.0,555.4 524.5,551.9 525.0,550.8 525.5,553.8 526.0,552.1 526.5,550.3 527.0,553.9 527.5,547.9 528.0,548.0 528.5,548.4 529.0,554.1 529.5,551.0 530.0,551.5 530.5,550.0 531.0,547.7 531.0,357.4 531.4,357.4 531.8,357.4 532.0,782.6 532.5,780.0 533.0,782.2 533.5,786.1 534.0,782.7 534.5,782.5 535.0,784.2 535.5,778.3 536.0,784.6 536.5,787.7 537.0,784.4 537.5,784.8 538.0,783.1 538.5,778.0 539.0,784.6 539.5,783.0 540.0,787.3 540.5,788.1 541.0,787.7 541.5,786.6 542.0,787.5 542.5,786.6 543.0,788.5 543.5,790.2 544.0,789.3 544.5,785.5 545.0,790.6 545.5,785.9 546.0,783.9 546.5,790.6 547.0,786.3 547.5,786.7 548.0,790.6 548.5,787.1 549.0,787.9 549.5,790.6 550.0,785.4 550.5,790.6 551.0,787.1" fill="none" stroke="#00f" stroke-width="1.8" stroke-dasharray="1.8 3.2" stroke-linejoin="round"/><polyline points="101.0,785.5 101.4,770.9 101.7,790.6 102.1,790.6 102.4,780.8 102.8,777.1 103.1,778.8 103.5,777.2 103.8,782.4 104.2,786.2 104.5,787.3 104.9,782.1 105.2,783.1 105.6,771.2 105.9,773.5 106.3,789.8 106.6,772.1 107.0,778.2 107.4,767.6 107.7,763.9 108.1,771.9 108.4,790.6 108.8,770.3 109.1,789.7 109.5,761.5 109.8,781.0 110.2,776.4 110.5,758.1 110.9,789.8 111.2,773.4 111.6,782.9 111.9,777.6 112.3,779.8 112.6,766.2 113.0,774.6 113.4,768.5 113.7,765.5 114.1,786.2 114.4,758.0 114.8,772.4 115.1,784.7 115.5,775.4 115.8,761.4 116.2,759.8 116.5,774.6 116.9,767.2 117.2,765.6 117.6,758.1 117.9,768.3 118.3,757.9 118.6,774.4 119.0,772.5 119.4,759.7 119.7,758.8 120.1,765.4 120.4,759.2 120.8,762.4 121.1,757.0 121.5,753.1 121.8,758.6 122.2,755.5 122.5,766.1 122.9,767.2 123.2,783.0 123.6,757.8 123.9,760.9 124.3,756.0 124.6,777.3 125.0,764.5 125.5,676.2 125.9,694.2 126.2,655.2 126.6,650.7 126.9,686.7 127.3,662.0 127.6,643.5 128.0,686.0 128.3,654.3 128.7,645.7 129.0,641.7 129.4,688.4 129.7,684.1 130.1,665.7 130.4,651.4 130.8,687.0 131.1,679.8 131.5,685.1 131.8,653.0 132.2,677.1 132.5,660.8 132.9,659.8 133.2,652.4 133.6,663.2 133.9,664.4 134.3,652.6 134.6,662.5 135.0,687.7 135.3,677.3 135.7,656.4 136.0,667.6 136.4,674.7 136.7,666.1 137.1,621.7 137.4,670.5 137.8,662.8 138.1,663.3 138.5,673.9 138.8,652.7 139.2,657.6 139.5,664.3 139.9,689.7 140.3,651.9 140.6,659.1 141.0,671.5 141.3,709.4 141.7,671.2 142.0,688.0 142.4,673.8 142.7,677.9 143.1,682.6 143.4,655.9 143.8,669.0 144.1,652.8 144.5,684.8 144.8,673.6 145.2,651.1 145.5,666.2 145.9,681.5 146.2,683.9 146.6,679.7 146.9,672.3 147.3,661.2 147.6,669.1 148.0,660.3 148.3,659.1 148.7,669.6 149.0,652.7 149.4,660.7 149.7,674.2 150.1,673.9 150.4,671.9 150.8,682.4 151.1,691.2 151.5,671.2 151.8,679.3 152.2,663.3 152.5,680.6 152.9,670.5 153.2,669.1 153.6,678.9 154.0,669.3 154.3,682.7 154.7,678.4 155.0,660.6 155.4,666.7 155.7,672.4 156.1,683.8 156.4,662.4 156.8,643.5 157.1,704.2 157.5,657.4 157.8,669.5 158.2,656.8 158.5,655.8 158.9,687.6 159.2,647.6 159.6,681.5 159.9,676.6 160.3,663.9 160.6,674.3 161.0,669.3 161.3,680.7 161.7,688.3 162.0,673.1 162.4,689.2 162.7,653.9 163.1,669.9 163.4,653.1 163.8,691.7 164.1,703.8 164.5,706.8 164.8,679.2 165.2,692.5 165.5,668.6 165.9,695.0 166.2,694.0 166.6,669.9 166.9,679.7 167.3,664.2 167.6,662.4 168.0,669.0 168.0,712.3 168.3,712.4 168.7,687.3 169.1,713.3 169.4,711.9 169.8,716.7 170.1,721.4 170.4,726.0 170.8,732.9 171.2,735.8 171.5,752.7 171.8,722.6 172.2,742.0 172.6,756.3 172.9,743.0 173.2,744.9 173.6,767.4 173.9,762.3 174.3,747.4 174.7,759.3 175.0,763.7 175.0,758.5 175.4,763.0 175.7,758.6 176.1,735.7 176.4,746.1 176.8,739.3 177.1,727.0 177.5,726.7 177.9,732.4 178.2,698.3 178.6,710.3 178.9,687.6 179.3,693.5 179.6,700.6 180.0,672.5 180.0,666.4 180.4,676.3 180.7,664.3 181.1,694.9 181.4,658.0 181.8,674.4 182.1,667.5 182.5,676.8 182.8,654.0 183.2,658.7 183.5,648.2 183.9,639.7 184.2,659.8 184.6,662.5 185.0,659.4 185.3,675.6 185.7,671.8 186.0,652.9 186.4,676.3 186.7,692.0 187.1,669.0 187.4,660.2 187.8,642.6 188.1,674.2 188.5,677.4 188.9,662.5 189.2,666.1 189.6,660.3 189.9,671.4 190.3,661.0 190.6,672.3 191.0,649.6 191.3,659.9 191.7,655.6 192.0,670.3 192.4,684.7 192.8,663.7 193.1,664.7 193.5,648.0 193.8,649.9 194.2,664.4 194.5,664.6 194.9,678.2 195.2,664.5 195.6,660.9 195.9,669.9 196.3,679.6 196.6,645.4 197.0,677.3 197.0,742.1 197.4,747.3 197.7,743.3 198.1,769.2 198.4,753.3 198.8,775.1 199.1,764.0 199.5,776.6 199.8,768.0 200.2,765.5 200.5,749.7 200.9,748.4 201.2,764.1 201.6,763.2 201.9,770.3 202.3,772.4 202.6,779.4 203.0,762.5 203.3,753.7 203.7,768.4 204.0,756.2 204.4,772.6 204.7,771.0 205.1,765.9 205.4,750.6 205.8,765.8 206.1,751.9 206.5,764.0 206.8,772.1 207.2,781.8 207.5,765.3 207.9,770.5 208.2,750.4 208.6,755.5 209.0,777.8 209.3,751.2 209.7,754.5 210.0,790.6 210.4,771.5 210.7,757.6 211.1,777.4 211.4,768.1 211.8,754.7 212.1,757.6 212.5,755.4 212.8,753.7 213.2,769.7 213.5,734.6 213.9,754.7 214.2,737.3 214.6,763.1 214.9,754.3 215.3,756.6 215.6,761.9 216.0,756.9 216.3,757.5 216.7,751.6 217.0,756.9 217.4,759.7 217.7,755.1 218.1,744.8 218.4,759.5 218.8,753.8 219.1,758.8 219.5,781.3 219.5,684.5 219.9,684.7 220.2,691.5 220.6,680.5 220.9,696.8 221.3,667.8 221.6,679.3 222.0,654.2 222.3,666.2 222.7,689.8 223.0,674.8 223.4,671.0 223.7,681.3 224.1,676.8 224.4,687.1 224.8,682.1 225.1,667.7 225.5,676.4 225.8,654.5 226.2,701.8 226.5,683.0 226.9,677.0 227.2,650.7 227.6,655.9 227.9,661.0 228.3,657.9 228.6,649.1 229.0,662.2 229.3,675.1 229.7,669.2 230.0,682.0 230.4,675.0 230.7,666.5 231.1,678.9 231.4,670.3 231.8,678.0 232.1,690.5 232.5,692.2 232.8,662.0 233.2,671.4 233.5,660.1 233.9,673.3 234.3,672.1 234.6,668.1 235.0,676.7 235.3,652.4 235.7,657.7 236.0,666.3 236.4,686.7 236.7,679.6 237.1,669.1 237.4,655.6 237.8,672.6 238.1,672.4 238.5,664.6 238.8,670.4 239.2,674.3 239.5,688.0 239.9,654.8 240.2,672.9 240.6,679.5 240.9,673.6 241.3,690.9 241.6,695.9 242.0,697.4 242.3,667.0 242.7,691.0 243.0,670.7 243.4,689.1 243.7,697.5 244.1,681.1 244.4,682.8 244.8,682.1 245.1,648.0 245.5,669.5 245.8,680.8 246.2,660.1 246.5,676.9 246.9,655.2 247.2,694.5 247.6,657.1 248.0,687.7 248.3,682.8 248.7,669.6 249.0,687.6 249.4,695.7 249.7,678.1 250.1,676.7 250.4,695.7 250.8,658.7 251.1,684.2 251.5,681.3 251.8,675.8 252.2,671.9 252.5,657.7 252.9,703.0 253.2,672.5 253.6,660.1 253.9,669.3 254.3,673.7 254.6,688.4 255.0,667.9 255.3,679.5 255.7,670.7 256.0,687.6 256.4,677.1 256.7,674.7 257.1,693.6 257.4,658.1 257.8,674.4 258.1,690.9 258.5,676.3 258.8,670.9 259.2,677.6 259.5,687.3 259.9,675.9 260.2,691.9 260.6,696.3 260.9,656.1 261.3,648.6 261.6,646.3 262.0,640.7 262.0,739.4 262.4,763.6 262.7,759.8 263.1,742.1 263.4,758.8 263.8,757.5 264.1,754.0 264.5,749.3 264.9,768.2 265.2,753.4 265.6,748.6 265.9,775.5 266.3,741.8 266.6,745.6 267.0,762.4 267.4,734.3 267.7,749.3 268.1,748.7 268.4,737.3 268.8,781.1 269.1,753.7 269.5,742.5 269.9,738.7 270.2,754.1 270.6,755.7 270.9,761.9 271.3,757.3 271.6,762.9 272.0,779.2 272.4,760.0 272.7,764.5 273.1,760.1 273.4,758.6 273.8,758.9 274.1,752.7 274.5,754.5 274.9,757.6 275.2,760.3 275.6,754.9 275.9,757.1 276.3,755.2 276.6,739.1 277.0,751.2 277.0,654.9 277.4,672.4 277.7,666.1 278.1,682.0 278.4,641.3 278.8,639.0 279.1,654.9 279.5,655.6 279.8,645.6 280.2,644.6 280.5,669.1 280.9,653.4 281.2,654.0 281.6,664.0 282.0,635.6 282.3,642.7 282.7,657.1 283.0,651.1 283.4,656.5 283.7,656.0 284.1,654.8 284.4,639.8 284.8,650.6 285.1,655.7 285.5,657.9 285.8,647.9 286.2,659.9 286.5,667.8 286.9,652.1 287.3,633.8 287.6,657.9 288.0,649.0 288.3,652.7 288.7,637.6 289.0,645.6 289.4,664.1 289.7,632.1 290.1,650.6 290.4,660.4 290.8,656.0 291.1,650.0 291.5,639.2 291.5,771.0 291.9,775.1 292.2,756.8 292.6,754.6 292.9,771.7 293.3,767.3 293.6,765.2 294.0,771.2 294.3,776.6 294.7,759.3 295.0,778.2 295.4,784.7 295.8,763.4 296.1,758.2 296.5,761.3 296.8,775.3 297.2,770.7 297.5,778.2 297.9,773.2 298.2,790.3 298.6,776.2 299.0,756.3 299.3,778.9 299.7,753.2 300.0,767.0 300.4,785.9 300.7,760.2 301.1,777.0 301.4,763.6 301.8,770.1 302.1,771.6 302.5,770.1 302.9,780.2 303.2,775.2 303.6,772.0 303.9,752.7 304.3,773.6 304.6,765.6 305.0,764.5 305.3,757.6 305.7,770.5 306.0,766.7 306.4,776.7 306.8,746.0 307.1,781.7 307.5,766.2 307.8,771.5 308.2,767.0 308.5,773.1 308.9,772.4 309.2,759.7 309.6,760.0 310.0,769.1 310.3,769.7 310.7,766.8 311.0,769.1 311.4,764.5 311.7,761.7 312.1,764.2 312.4,782.4 312.8,768.9 313.1,777.9 313.5,764.5 313.5,656.6 313.9,650.3 314.2,654.4 314.6,643.5 314.9,639.0 315.3,651.6 315.6,669.3 316.0,653.4 316.3,632.3 316.7,660.8 317.0,654.3 317.4,627.4 317.7,635.4 318.1,646.6 318.4,651.0 318.8,667.5 319.1,636.0 319.5,643.7 319.8,671.4 320.2,654.7 320.5,654.8 320.9,654.1 321.2,660.5 321.6,627.0 321.9,662.7 322.3,637.8 322.6,646.7 323.0,653.3 323.3,648.6 323.7,645.5 324.0,661.7 324.4,657.3 324.7,640.5 325.1,643.3 325.4,649.2 325.8,666.1 326.1,670.7 326.5,637.5 326.8,637.9 327.2,647.9 327.5,649.1 327.9,656.8 328.3,648.0 328.6,640.6 329.0,645.2 329.3,659.1 329.7,649.5 330.0,659.0 330.4,654.1 330.7,665.0 331.1,678.4 331.4,664.4 331.8,651.3 332.1,661.7 332.5,647.6 332.8,659.3 333.2,650.1 333.5,658.2 333.9,638.0 334.2,657.5 334.6,653.1 334.9,641.1 335.3,637.5 335.6,665.6 336.0,637.7 336.3,664.6 336.7,663.6 337.0,662.2 337.4,642.6 337.7,664.6 338.1,647.1 338.4,648.8 338.8,655.3 339.1,648.4 339.5,631.2 339.8,636.2 340.2,662.2 340.5,650.4 340.9,657.4 341.2,654.7 341.6,658.9 341.9,647.4 342.3,662.3 342.7,666.4 343.0,652.7 343.4,649.8 343.7,640.4 344.1,646.1 344.4,662.4 344.8,663.0 345.1,649.8 345.5,650.4 345.8,645.5 346.2,639.2 346.5,677.0 346.9,659.7 347.2,647.4 347.6,664.6 347.9,635.5 348.3,654.1 348.6,646.9 349.0,655.4 349.3,649.4 349.7,648.9 350.0,647.4 350.4,667.8 350.7,673.4 351.1,654.1 351.4,644.8 351.8,655.8 352.1,654.9 352.5,641.8 352.8,646.2 353.2,663.2 353.5,651.4 353.9,655.4 354.2,652.5 354.6,654.0 354.9,647.0 355.3,653.3 355.6,649.6 356.0,652.8 356.3,655.3 356.7,659.2 356.7,732.8 357.1,730.9 357.4,718.9 357.8,709.4 358.1,742.7 358.5,742.6 358.8,724.5 359.2,740.0 359.5,734.3 359.9,749.0 360.2,729.3 360.6,751.0 360.9,725.0 361.3,744.4 361.6,733.2 362.0,725.2 362.3,744.5 362.7,736.8 363.0,713.1 363.4,750.4 363.7,734.3 364.1,756.7 364.4,731.9 364.8,737.4 365.1,747.5 365.5,748.2 365.8,722.4 366.2,728.6 366.5,748.4 366.9,727.0 367.2,745.4 367.6,744.1 367.9,731.4 368.3,736.8 368.6,730.0 369.0,724.2 369.3,742.3 369.7,729.8 370.0,732.5 370.4,753.2 370.7,727.3 371.1,725.0 371.4,750.2 371.8,739.1 372.1,725.3 372.5,726.1 372.8,739.5 373.2,738.1 373.5,738.8 373.9,748.6 374.2,734.5 374.6,713.3 374.9,750.6 375.3,735.9 375.3,655.2 375.7,622.8 376.0,664.5 376.4,630.9 376.7,636.8 377.1,654.0 377.4,646.8 377.8,641.9 378.1,620.1 378.5,639.0 378.9,627.0 379.2,628.6 379.6,641.4 379.9,642.1 380.3,643.5 380.6,621.0 381.0,625.4 381.3,629.7 381.7,651.3 382.1,646.4 382.4,632.6 382.8,645.1 383.1,660.7 383.5,662.5 383.8,636.6 384.2,632.6 384.5,635.6 384.9,622.2 385.2,663.5 385.6,666.3 386.0,641.2 386.3,631.2 386.7,653.9 387.0,639.4 387.4,638.4 387.7,649.0 388.1,653.9 388.4,647.1 388.8,643.9 388.8,745.7 389.2,756.5 389.5,763.6 389.9,764.8 390.2,758.3 390.6,748.0 390.9,762.5 391.3,757.3 391.6,747.9 392.0,750.7 392.3,731.8 392.7,748.2 393.1,746.8 393.4,731.0 393.8,773.3 394.1,771.8 394.5,761.8 394.8,752.2 395.2,741.0 395.5,746.3 395.9,759.2 396.2,768.8 396.6,749.7 397.0,756.4 397.3,763.9 397.7,766.9 398.0,746.2 398.4,756.7 398.7,751.6 399.1,754.8 399.4,761.8 399.8,758.8 400.2,760.3 400.5,754.5 400.9,761.1 401.2,747.3 401.6,764.3 401.9,751.3 402.3,752.5 402.6,747.4 403.0,785.8 403.3,747.1 403.7,750.3 404.1,758.7 404.4,757.7 404.8,758.2 405.1,769.7 405.5,722.6 405.8,756.4 406.2,749.6 406.5,766.8 406.9,759.1 407.2,779.5 407.6,755.5 407.6,677.9 408.0,666.4 408.3,660.9 408.7,648.5 409.0,665.9 409.4,681.0 409.7,673.2 410.1,659.0 410.4,642.2 410.8,699.3 411.1,683.3 411.5,676.0 411.8,668.9 412.2,658.4 412.5,648.1 412.9,659.0 413.2,647.7 413.6,675.5 413.9,677.6 414.3,688.6 414.6,677.3 415.0,658.0 415.3,667.0 415.7,640.4 416.0,671.3 416.4,680.4 416.7,660.0 417.1,694.1 417.4,656.4 417.8,662.7 418.1,685.9 418.5,661.1 418.8,664.6 419.2,651.0 419.5,671.1 419.9,674.8 420.2,667.6 420.6,669.5 420.9,681.5 421.3,655.5 421.6,655.0 422.0,677.4 422.4,675.3 422.7,682.2 423.1,674.1 423.4,677.0 423.8,668.2 424.1,659.0 424.5,648.0 424.8,680.3 425.2,678.3 425.5,683.4 425.9,668.6 426.2,657.8 426.6,679.9 426.9,668.4 427.3,681.4 427.6,687.0 428.0,675.4 428.3,657.3 428.7,673.1 429.0,691.7 429.4,681.7 429.7,672.6 430.1,642.2 430.4,684.1 430.8,631.0 431.1,655.4 431.5,651.5 431.8,655.9 432.2,702.2 432.5,665.4 432.9,665.0 433.2,661.4 433.6,651.2 433.9,669.1 434.3,678.9 434.6,661.7 435.0,665.9 435.3,662.2 435.7,674.0 436.0,668.6 436.4,709.1 436.8,665.2 437.1,654.0 437.5,666.6 437.8,668.8 438.2,659.5 438.5,671.9 438.9,670.6 439.2,644.7 439.6,644.4 439.9,691.3 440.3,675.4 440.6,663.6 441.0,657.3 441.3,683.3 441.7,674.9 442.0,658.5 442.4,651.3 442.7,679.8 443.1,671.3 443.4,671.0 443.8,652.1 444.1,660.7 444.5,661.5 444.8,642.0 445.2,656.3 445.5,665.3 445.9,645.5 446.2,644.7 446.6,647.2 446.9,641.8 447.3,661.1 447.6,693.8 448.0,671.1 448.3,663.8 448.7,666.7 449.0,655.8 449.4,662.2 449.7,639.8 450.1,658.1 450.4,653.1 450.8,649.7 450.8,768.4 451.2,782.5 451.5,768.6 451.9,779.1 452.2,790.6 452.6,766.5 452.9,777.0 453.3,770.0 453.6,786.4 454.0,774.3 454.3,784.1 454.7,761.7 455.1,767.9 455.4,779.4 455.8,790.6 456.1,778.5 456.5,776.7 456.8,779.5 457.2,776.3 457.5,781.1 457.9,774.3 458.2,775.8 458.6,784.4 459.0,772.9 459.3,775.0 459.7,780.0 460.0,783.9 460.4,785.5 460.7,762.3 461.1,762.1 461.4,773.2 461.8,782.1 462.1,773.5 462.5,784.4 462.8,786.3 463.2,790.6 463.6,783.1 463.9,783.9 464.3,771.3 464.6,776.2 465.0,783.8 465.3,781.5 465.7,779.9 466.0,779.4 466.4,779.0 466.7,770.7 467.1,789.8 467.5,777.6 467.8,778.2 468.2,773.1 468.5,779.4 468.9,784.6 469.2,773.0 469.6,770.8 469.9,784.4 470.3,771.2 470.6,760.4 471.0,782.4 471.0,648.9 471.4,692.4 471.7,654.7 472.1,670.1 472.4,651.7 472.8,660.8 473.1,654.0 473.5,642.8 473.8,645.1 474.2,645.4 474.5,666.7 474.9,660.6 475.2,658.2 475.6,663.5 476.0,668.6 476.3,657.2 476.7,651.1 477.0,660.8 477.4,673.3 477.7,643.7 478.1,666.2 478.4,634.5 478.8,654.0 479.1,654.6 479.5,641.2 479.8,656.6 480.2,674.3 480.5,655.9 480.9,684.8 481.3,653.3 481.6,656.4 482.0,650.7 482.3,657.7 482.7,632.9 483.0,655.6 483.4,664.0 483.7,618.1 484.1,657.8 484.4,647.6 484.8,660.1 485.1,662.0 485.5,658.8 485.5,730.8 485.9,724.2 486.2,725.9 486.6,728.5 486.9,731.2 487.3,725.7 487.6,747.3 488.0,718.1 488.3,749.1 488.7,724.4 489.0,721.1 489.4,726.7 489.7,719.1 490.1,698.8 490.4,716.9 490.8,723.2 491.1,713.7 491.5,724.8 491.8,736.4 492.2,724.7 492.5,709.4 492.9,717.9 493.2,709.0 493.6,707.2 493.9,734.9 494.3,729.7 494.7,722.6 495.0,726.6 495.4,706.1 495.7,721.8 496.1,724.0 496.4,696.7 496.8,725.5 497.1,724.3 497.5,696.8 497.8,708.4 498.2,710.8 498.5,702.6 498.9,714.8 499.2,711.0 499.6,710.9 499.9,693.9 500.3,707.1 500.6,720.4 501.0,719.0 501.3,699.8 501.7,719.4 502.0,719.6 502.4,710.6 502.4,615.2 502.8,590.2 503.1,565.9 503.5,567.4 503.8,590.8 504.2,573.6 504.5,590.0 504.9,592.9 505.2,583.9 505.6,592.0 505.9,598.9 506.3,594.0 506.6,596.7 507.0,588.2 507.3,578.8 507.7,609.3 508.0,600.1 508.4,608.6 508.8,571.2 509.1,583.2 509.5,590.2 509.8,606.0 510.2,580.4 510.5,607.4 510.9,614.5 511.2,602.9 511.6,576.3 511.9,594.6 512.3,599.0 512.6,601.4 513.0,581.1 513.3,604.9 513.7,601.3 514.1,585.9 514.4,584.9 514.8,594.4 515.1,586.7 515.5,588.0 515.8,619.7 516.2,592.7 516.5,601.0 516.9,594.6 517.2,593.5 517.6,589.2 517.9,581.8 518.3,606.0 518.6,601.8 519.0,599.3 519.3,593.7 519.7,613.7 520.1,592.0 520.4,582.8 520.8,600.8 521.1,617.2 521.5,583.2 521.8,574.4 522.2,586.6 522.5,572.5 522.9,577.3 523.2,594.0 523.6,596.3 523.9,561.4 524.3,583.2 524.6,597.8 525.0,575.3 525.4,603.1 525.7,598.0 526.1,574.4 526.4,579.3 526.8,598.8 527.1,579.6 527.5,581.8 527.8,621.4 528.2,594.4 528.5,580.1 528.9,589.4 529.2,606.0 529.6,581.7 529.9,599.7 530.3,581.5 530.6,588.1 531.0,577.7 531.0,478.3 531.4,478.3 531.8,478.3 532.0,756.1 532.4,759.5 532.7,756.7 533.1,754.9 533.4,759.6 533.8,751.8 534.1,753.1 534.5,760.5 534.8,760.3 535.2,758.3 535.5,752.8 535.9,750.1 536.2,770.6 536.6,756.7 536.9,757.5 537.3,776.3 537.6,761.2 538.0,751.1 538.3,770.8 538.7,777.5 539.0,787.0 539.4,768.3 539.7,771.3 540.1,771.3 540.4,763.2 540.8,781.8 541.1,773.1 541.5,757.0 541.9,759.8 542.2,779.5 542.6,790.6 542.9,772.5 543.3,773.1 543.6,774.9 544.0,785.8 544.3,771.6 544.7,786.4 545.0,789.1 545.4,788.2 545.7,781.3 546.1,782.2 546.4,790.6 546.8,779.4 547.1,771.9 547.5,790.6 547.8,780.4 548.2,790.6 548.5,790.6 548.9,785.6 549.2,790.6 549.6,790.6 549.9,790.6 550.3,790.6 550.6,790.6 551.0,783.8" fill="none" stroke="#0ff" stroke-width="2.1" stroke-dasharray="12 3" stroke-linejoin="round"/></g><rect x="548.4" y="355.3" width="179.80" height="98.00" fill="#fff"/><path d="M728.2,355.3 L548.4,355.3 L548.4,453.3 L728.2,453.3" fill="none" stroke="#262626" stroke-width="1.3"/><line x1="728.2" y1="355.3" x2="728.2" y2="453.3" stroke="#858585" stroke-width="1.2"/><line x1="554.0" y1="373.0" x2="607.2" y2="373.0" stroke="#f00" stroke-width="2"/><line x1="554.0" y1="404.2" x2="604.2" y2="404.2" stroke="#00f" stroke-width="2" stroke-dasharray="2 3.3"/><line x1="554.0" y1="435.3" x2="607.2" y2="435.3" stroke="#0ff" stroke-width="2.2" stroke-dasharray="13.4 7.5"/><g font-size="24" fill="#000"><text x="611.4" y="382.2">Reference</text><text x="611.4" y="413.5">AEDS</text><text x="611.4" y="444.6">DPFT</text></g><rect x="101.0" y="348.6" width="576.50" height="442.00" fill="none" stroke="#262626" stroke-width="1.3"/><g stroke="#262626" stroke-width="1.3" fill="none"><line x1="101.00" y1="790.6" x2="101.00" y2="784.6"/><line x1="101.00" y1="348.6" x2="101.00" y2="354.6"/><line x1="245.12" y1="790.6" x2="245.12" y2="784.6"/><line x1="245.12" y1="348.6" x2="245.12" y2="354.6"/><line x1="389.25" y1="790.6" x2="389.25" y2="784.6"/><line x1="389.25" y1="348.6" x2="389.25" y2="354.6"/><line x1="533.38" y1="790.6" x2="533.38" y2="784.6"/><line x1="533.38" y1="348.6" x2="533.38" y2="354.6"/><line x1="677.50" y1="790.6" x2="677.50" y2="784.6"/><line x1="677.50" y1="348.6" x2="677.50" y2="354.6"/><line x1="101.0" y1="790.60" x2="107.0" y2="790.60"/><line x1="677.5" y1="790.60" x2="671.5" y2="790.60"/><line x1="101.0" y1="716.93" x2="107.0" y2="716.93"/><line x1="677.5" y1="716.93" x2="671.5" y2="716.93"/><line x1="101.0" y1="643.27" x2="107.0" y2="643.27"/><line x1="677.5" y1="643.27" x2="671.5" y2="643.27"/><line x1="101.0" y1="569.60" x2="107.0" y2="569.60"/><line x1="677.5" y1="569.60" x2="671.5" y2="569.60"/><line x1="101.0" y1="495.93" x2="107.0" y2="495.93"/><line x1="677.5" y1="495.93" x2="671.5" y2="495.93"/><line x1="101.0" y1="422.27" x2="107.0" y2="422.27"/><line x1="677.5" y1="422.27" x2="671.5" y2="422.27"/><line x1="101.0" y1="348.60" x2="107.0" y2="348.60"/><line x1="677.5" y1="348.60" x2="671.5" y2="348.60"/></g><g font-size="27" fill="#262626"><text transform="translate(101.00,827.40) scale(1,1.035)" text-anchor="middle">0</text><text transform="translate(245.12,827.40) scale(1,1.035)" text-anchor="middle">500</text><text transform="translate(389.25,827.40) scale(1,1.035)" text-anchor="middle">1000</text><text transform="translate(533.38,827.40) scale(1,1.035)" text-anchor="middle">1500</text><text transform="translate(677.50,827.40) scale(1,1.035)" text-anchor="middle">2000</text><text transform="translate(92.60,801.00) scale(1,1.035)" text-anchor="end">0</text><text transform="translate(92.60,727.33) scale(1,1.035)" text-anchor="end">0.05</text><text transform="translate(92.60,653.67) scale(1,1.035)" text-anchor="end">0.1</text><text transform="translate(92.60,580.00) scale(1,1.035)" text-anchor="end">0.15</text><text transform="translate(92.60,506.33) scale(1,1.035)" text-anchor="end">0.2</text><text transform="translate(92.60,432.67) scale(1,1.035)" text-anchor="end">0.25</text><text transform="translate(92.60,359.00) scale(1,1.035)" text-anchor="end">0.3</text></g><text transform="translate(389.25,335.70) scale(1,1.03)" text-anchor="middle" font-size="29.4" fill="#000">120<tspan font-size="24" dy="-13.4">o</tspan><tspan dy="13.4">, horizontal profile</tspan></text><clipPath id="clMR"><rect x="841.7" y="346.6" width="576.5" height="444.0"/></clipPath><g clip-path="url(#clMR)"><polyline points="841.6,769.5 844.0,767.1 846.4,771.9 848.8,770.7 851.2,773.1 853.6,767.1 857.2,764.7 859.6,774.3 862.0,767.1 864.4,755.1 866.8,750.3 870.4,751.5 872.8,758.7 875.2,756.3 877.6,743.1 880.0,759.9 881.2,738.3 883.6,735.9 886.0,709.5 889.6,695.1 892.0,704.7 895.6,719.1 898.0,723.9 900.4,709.5 902.8,675.9 905.2,656.7 907.6,647.1 910.0,636.3 912.4,656.7 914.3,681.9 916.0,675.9 917.2,651.9 919.6,642.3 922.0,635.1 924.4,642.3 926.8,675.9 929.2,696.3 931.6,699.9 934.0,714.3 936.4,723.9 938.8,733.5 941.2,738.3 943.6,723.9 945.9,731.1 948.3,723.9 950.7,702.3 953.1,719.1 955.5,733.5 957.9,740.7 960.3,745.5 962.7,735.9 965.1,747.9 967.5,738.3 969.9,740.7 972.3,738.3 974.7,740.7 977.1,743.1 979.5,723.9 981.5,685.5 984.3,723.9 986.7,743.1 990.3,757.5 992.7,752.7 995.1,723.9 998.2,675.9 1001.1,723.9 1003.5,738.3 1006.4,728.8 1008.5,711.8 1010.6,694.9 1012.7,692.8 1014.8,720.3 1016.9,724.5 1019.1,743.6 1021.2,750.0 1023.3,754.2 1025.4,743.6 1027.5,756.3 1029.7,741.5 1033.9,741.5 1037.1,733.0 1040.2,690.6 1042.4,711.8 1044.5,733.0 1046.6,756.3 1048.7,752.1 1050.8,745.7 1053.0,747.8 1055.1,750.0 1057.2,743.6 1059.3,750.0 1062.5,728.8 1064.6,743.6 1067.8,733.0 1069.9,701.2 1072.0,680.1 1075.2,724.5 1077.3,722.4 1079.4,709.7 1081.6,709.7 1083.7,669.5 1084.7,658.9 1087.9,661.0 1090.0,680.1 1092.1,690.6 1094.3,724.5 1096.4,728.8 1098.5,743.6 1101.7,711.8 1107.0,671.6 1110.1,684.3 1114.4,711.8 1117.6,709.7 1120.7,711.8 1123.9,690.6 1126.0,711.8 1128.2,739.4 1130.3,724.5 1133.4,722.4 1136.6,663.1 1140.9,722.4 1146.2,757.4 1149.3,733.0 1152.5,697.0 1155.7,724.5 1158.9,752.1 1162.0,724.5 1165.2,684.3 1170.6,755.5 1174.9,738.6 1177.7,744.2 1180.5,710.4 1182.5,685.0 1184.8,730.1 1187.6,732.9 1191.8,738.6 1196.0,744.2 1200.3,744.2 1203.1,752.7 1207.3,730.1 1210.7,696.3 1214.4,738.6 1218.6,735.8 1221.4,744.2 1224.3,735.8 1227.6,727.3 1231.3,744.2 1235.5,724.5 1239.8,696.3 1244.0,724.5 1249.6,744.2 1253.9,741.4 1258.1,718.8 1262.3,721.7 1266.6,682.2 1269.4,648.3 1273.6,639.8 1276.4,670.9 1279.3,685.0 1282.1,665.2 1284.9,622.9 1287.7,648.3 1290.6,682.2 1293.4,713.2 1295.4,727.3 1297.6,718.8 1300.4,727.3 1304.7,721.7 1307.5,718.8 1310.3,701.9 1313.1,724.5 1316.0,749.9 1318.8,749.9 1321.6,758.3 1324.4,752.7 1328.6,752.7 1331.5,749.9 1334.3,772.4 1338.5,769.6 1341.3,775.3 1344.2,769.6 1347.0,778.1 1349.8,766.8 1352.6,775.3 1355.5,769.6 1358.3,762.6 1361.1,766.8" fill="none" stroke="#f00" stroke-width="2" stroke-linejoin="round"/><polyline points="842.8,779.1 847.6,786.2 852.4,781.5 857.2,786.2 862.0,779.1 866.8,783.8 871.6,779.1 876.4,783.8 881.2,788.6 882.4,738.3 884.8,740.7 886.0,743.1 888.4,723.9 890.8,675.9 893.2,735.9 895.6,723.9 898.0,699.9 900.4,637.5 902.8,493.6 905.2,575.1 907.6,493.6 910.0,575.1 911.2,488.8 913.6,567.9 916.0,627.9 918.4,651.9 920.8,508.0 922.0,491.2 924.4,603.9 926.8,627.9 929.2,627.9 931.6,745.5 934.0,719.1 936.4,723.9 938.8,690.3 941.2,747.9 943.6,755.1 945.9,738.3 948.3,735.9 950.7,740.7 953.1,735.9 955.5,743.1 957.9,747.9 960.3,759.9 962.7,738.3 965.1,762.3 967.5,764.7 969.9,743.1 971.1,728.7 972.3,762.3 975.9,755.1 978.3,723.9 980.7,711.9 984.3,728.7 986.7,704.7 989.1,738.3 991.5,747.9 993.9,690.3 996.3,719.1 998.7,673.5 1001.1,747.9 1002.3,779.1 1004.7,759.9 1006.4,733.0 1009.5,648.3 1011.7,711.8 1014.8,743.6 1018.0,775.4 1021.2,716.1 1023.3,775.4 1025.4,754.2 1029.7,769.0 1033.9,743.6 1036.0,764.8 1039.2,707.6 1042.4,722.4 1045.5,711.8 1048.7,724.5 1051.9,764.8 1055.1,754.2 1058.3,773.3 1061.4,762.7 1063.5,775.4 1066.7,754.2 1069.9,697.0 1073.1,711.8 1076.3,728.8 1080.5,711.8 1083.7,595.3 1085.8,523.3 1087.9,605.9 1090.0,694.9 1093.2,735.1 1096.4,713.9 1099.6,648.3 1101.7,733.0 1104.9,584.7 1107.0,539.2 1110.1,652.5 1112.3,684.3 1115.4,733.0 1118.6,694.9 1122.9,733.0 1127.1,743.6 1130.3,733.0 1133.4,711.8 1136.6,618.6 1138.7,728.8 1141.9,771.1 1146.2,733.0 1149.3,713.9 1152.5,703.4 1156.7,722.4 1159.9,775.4 1163.1,733.0 1165.2,631.3 1167.3,711.8 1170.6,766.8 1173.5,738.6 1177.7,710.4 1181.9,645.5 1184.8,780.9 1189.0,738.6 1191.8,766.8 1194.6,780.9 1198.9,738.6 1203.1,752.7 1207.3,710.4 1211.6,687.8 1215.8,780.9 1220.0,738.6 1224.3,761.2 1228.5,738.6 1232.7,710.4 1235.0,637.0 1238.4,738.6 1242.6,710.4 1246.8,744.2 1249.6,752.7 1253.9,786.5 1256.7,676.5 1260.9,732.9 1265.2,653.9 1269.4,597.5 1272.2,560.8 1275.0,597.5 1277.9,569.3 1281.2,428.2 1283.5,569.3 1286.3,563.6 1289.1,603.1 1292.0,625.7 1294.8,769.6 1297.6,724.5 1301.8,648.3 1304.7,696.3 1307.5,769.6 1311.7,772.4 1317.4,775.3 1323.0,772.4 1328.6,775.3 1334.3,772.4 1339.9,775.3 1345.6,775.3 1351.2,775.3 1356.9,772.4 1359.7,778.1" fill="none" stroke="#00f" stroke-width="2.2" stroke-dasharray="2 3.3" stroke-linejoin="round"/><polyline points="842.8,771.9 845.2,781.5 848.8,788.6 852.4,779.1 854.8,786.2 858.4,788.6 862.0,781.5 864.4,776.7 868.0,779.1 871.6,781.5 874.0,779.1 876.4,788.6 880.0,788.6 883.6,791.0 886.0,783.8 888.4,752.7 890.8,750.3 893.2,740.7 895.6,719.1 898.0,695.1 900.4,707.1 902.8,668.7 905.2,587.1 907.6,544.0 910.0,484.0 912.4,496.0 914.8,500.8 917.2,520.0 919.6,567.9 922.0,539.2 924.4,536.8 926.8,579.9 929.2,603.9 931.6,608.7 934.0,697.5 936.4,723.9 938.8,733.5 941.2,738.3 943.6,747.9 945.9,747.9 948.3,767.1 950.7,759.9 953.1,711.9 955.5,680.7 957.9,685.5 959.1,759.9 961.5,728.7 963.9,747.9 966.3,759.9 969.9,781.5 972.3,776.7 974.7,764.7 977.1,759.9 979.5,747.9 981.9,723.9 984.3,714.3 986.7,728.7 989.1,733.5 991.5,752.7 993.9,723.9 996.3,697.5 998.7,704.7 1001.1,735.9 1003.5,767.1 1006.4,724.5 1010.6,707.6 1014.8,680.1 1018.0,711.8 1021.2,754.2 1023.3,779.6 1026.5,754.2 1030.7,769.0 1033.9,764.8 1038.1,722.4 1041.3,699.1 1044.5,722.4 1047.7,743.6 1050.8,769.0 1054.0,773.3 1057.2,758.4 1060.4,771.1 1063.5,754.2 1067.8,716.1 1072.0,686.4 1075.2,711.8 1078.4,733.0 1080.5,756.3 1081.6,711.8 1084.7,610.1 1086.8,622.9 1090.0,648.3 1093.2,690.6 1096.4,711.8 1099.6,711.8 1101.7,680.1 1104.9,584.7 1108.0,595.3 1111.2,637.7 1114.4,701.2 1117.6,764.8 1120.7,690.6 1123.9,665.2 1127.1,724.5 1130.3,754.2 1133.4,733.0 1136.6,673.7 1139.8,711.8 1141.9,743.6 1146.2,730.9 1149.3,709.7 1152.5,682.2 1156.7,711.8 1159.9,754.2 1164.2,669.5 1167.3,690.6 1169.2,738.6 1172.1,769.6 1176.3,738.6 1180.5,704.7 1183.3,696.3 1186.2,738.6 1190.4,780.9 1194.6,766.8 1198.9,772.4 1204.5,738.6 1208.7,690.6 1213.0,696.3 1215.8,766.8 1220.0,778.1 1224.3,761.2 1228.5,778.1 1231.3,780.9 1234.1,710.4 1239.8,690.6 1244.0,732.9 1248.2,766.8 1252.5,749.9 1255.3,738.6 1258.1,710.4 1260.9,704.7 1265.2,676.5 1268.0,625.7 1270.8,574.9 1275.0,558.0 1279.3,541.1 1283.5,518.5 1286.3,518.5 1290.6,569.3 1293.4,648.3 1297.6,696.3 1301.8,710.4 1304.7,758.3 1308.9,766.8 1313.1,775.3 1317.4,789.4 1323.0,780.9 1328.6,780.9 1334.3,778.1 1339.9,786.5 1345.6,786.5 1351.2,789.4 1356.9,780.9 1361.1,783.7" fill="none" stroke="#0ff" stroke-width="2.4" stroke-dasharray="13.4 7.5" stroke-linejoin="round"/></g><rect x="1290.5" y="355.1" width="179.90" height="98.40" fill="#fff"/><path d="M1470.4,355.1 L1290.5,355.1 L1290.5,453.5 L1470.4,453.5" fill="none" stroke="#262626" stroke-width="1.3"/><line x1="1470.4" y1="355.1" x2="1470.4" y2="453.5" stroke="#858585" stroke-width="1.2"/><line x1="1296.1" y1="372.8" x2="1349.3" y2="372.8" stroke="#f00" stroke-width="2"/><line x1="1296.1" y1="404.0" x2="1346.3" y2="404.0" stroke="#00f" stroke-width="2" stroke-dasharray="2 3.3"/><line x1="1296.1" y1="435.1" x2="1349.3" y2="435.1" stroke="#0ff" stroke-width="2.2" stroke-dasharray="13.4 7.5"/><g font-size="24" fill="#000"><text x="1353.5" y="382.0">Reference</text><text x="1353.5" y="413.3">AEDS</text><text x="1353.5" y="444.4">DPFT</text></g><rect x="841.7" y="348.6" width="576.50" height="442.00" fill="none" stroke="#262626" stroke-width="1.3"/><g stroke="#262626" stroke-width="1.3" fill="none"><line x1="841.70" y1="790.6" x2="841.70" y2="784.6"/><line x1="841.70" y1="348.6" x2="841.70" y2="354.6"/><line x1="985.83" y1="790.6" x2="985.83" y2="784.6"/><line x1="985.83" y1="348.6" x2="985.83" y2="354.6"/><line x1="1129.95" y1="790.6" x2="1129.95" y2="784.6"/><line x1="1129.95" y1="348.6" x2="1129.95" y2="354.6"/><line x1="1274.08" y1="790.6" x2="1274.08" y2="784.6"/><line x1="1274.08" y1="348.6" x2="1274.08" y2="354.6"/><line x1="1418.20" y1="790.6" x2="1418.20" y2="784.6"/><line x1="1418.20" y1="348.6" x2="1418.20" y2="354.6"/><line x1="841.7" y1="790.60" x2="847.7" y2="790.60"/><line x1="1418.2" y1="790.60" x2="1412.2" y2="790.60"/><line x1="841.7" y1="702.20" x2="847.7" y2="702.20"/><line x1="1418.2" y1="702.20" x2="1412.2" y2="702.20"/><line x1="841.7" y1="613.80" x2="847.7" y2="613.80"/><line x1="1418.2" y1="613.80" x2="1412.2" y2="613.80"/><line x1="841.7" y1="525.40" x2="847.7" y2="525.40"/><line x1="1418.2" y1="525.40" x2="1412.2" y2="525.40"/><line x1="841.7" y1="437.00" x2="847.7" y2="437.00"/><line x1="1418.2" y1="437.00" x2="1412.2" y2="437.00"/><line x1="841.7" y1="348.60" x2="847.7" y2="348.60"/><line x1="1418.2" y1="348.60" x2="1412.2" y2="348.60"/></g><g font-size="27" fill="#262626"><text transform="translate(841.70,827.40) scale(1,1.035)" text-anchor="middle">0</text><text transform="translate(985.83,827.40) scale(1,1.035)" text-anchor="middle">100</text><text transform="translate(1129.95,827.40) scale(1,1.035)" text-anchor="middle">200</text><text transform="translate(1274.08,827.40) scale(1,1.035)" text-anchor="middle">300</text><text transform="translate(1418.20,827.40) scale(1,1.035)" text-anchor="middle">400</text><text transform="translate(833.30,801.00) scale(1,1.035)" text-anchor="end">0</text><text transform="translate(833.30,712.60) scale(1,1.035)" text-anchor="end">0.1</text><text transform="translate(833.30,624.20) scale(1,1.035)" text-anchor="end">0.2</text><text transform="translate(833.30,535.80) scale(1,1.035)" text-anchor="end">0.3</text><text transform="translate(833.30,447.40) scale(1,1.035)" text-anchor="end">0.4</text><text transform="translate(833.30,359.00) scale(1,1.035)" text-anchor="end">0.5</text></g><text transform="translate(1129.95,335.70) scale(1,1.03)" text-anchor="middle" font-size="29.4" fill="#000">120<tspan font-size="24" dy="-13.4">o</tspan><tspan dy="13.4">, vertical profile</tspan></text><clipPath id="clBL"><rect x="101.0" y="909.6" width="576.5" height="443.80000000000007"/></clipPath><g clip-path="url(#clBL)"><polyline points="101.0,1351.3 101.6,1349.6 102.2,1353.4 102.9,1353.4 103.5,1351.3 104.1,1347.4 104.8,1350.6 105.4,1353.4 106.0,1353.1 106.6,1351.0 107.2,1348.1 107.9,1350.3 108.5,1350.9 109.1,1350.3 109.8,1349.0 110.4,1351.1 111.0,1348.9 111.5,1340.1 111.8,1340.1 112.0,1340.1 112.5,1346.4 113.1,1351.1 113.7,1345.7 114.3,1347.1 114.9,1348.4 115.5,1346.6 116.1,1343.7 116.8,1346.4 117.4,1342.4 118.0,1340.7 118.6,1339.9 119.2,1339.5 119.8,1346.5 120.4,1341.9 121.0,1344.0 121.5,1293.1 122.2,1301.3 122.8,1304.2 123.5,1306.6 125.0,1060.3 125.7,1063.3 126.3,1074.2 127.0,1066.3 127.0,1094.9 127.6,1089.5 128.2,1119.4 128.8,1116.9 129.4,1109.0 130.0,1085.5 130.6,1087.9 131.2,1097.6 131.8,1114.0 132.4,1077.2 133.1,1124.1 133.7,1123.5 134.3,1104.6 134.9,1129.7 135.5,1112.1 136.1,1103.1 136.7,1121.4 137.3,1116.0 137.9,1123.8 138.5,1136.9 139.1,1178.0 139.7,1149.5 140.3,1132.6 140.9,1160.2 141.5,1145.4 142.1,1135.4 142.7,1119.8 143.3,1164.1 143.9,1153.0 144.6,1143.2 145.2,1140.6 145.8,1172.5 146.4,1123.7 147.0,1167.7 147.6,1139.9 148.2,1162.1 148.8,1154.6 149.4,1136.9 150.0,1153.9 150.0,1163.0 150.6,1179.7 151.2,1173.1 151.8,1184.1 152.4,1129.0 153.0,1183.9 153.6,1198.9 154.2,1131.5 154.8,1136.2 155.4,1160.8 156.0,1140.9 156.6,1165.9 157.2,1160.9 157.8,1142.8 158.4,1143.4 159.0,1155.7 159.6,1121.9 160.2,1134.7 160.8,1143.0 161.4,1162.7 162.0,1140.8 162.6,1146.9 163.2,1142.0 163.8,1127.1 164.4,1147.6 165.0,1133.3 165.6,1123.8 166.2,1129.7 166.8,1098.0 167.4,1160.6 168.0,1133.0 168.0,1149.6 168.6,1158.4 169.3,1159.5 169.9,1196.0 170.5,1203.6 171.2,1213.2 171.8,1230.9 172.5,1241.2 173.1,1268.8 173.7,1270.2 174.4,1295.0 175.0,1311.1 175.0,1301.7 175.7,1275.3 176.3,1254.7 177.0,1228.3 177.7,1198.2 178.3,1170.3 179.0,1144.3 179.0,1153.9 179.6,1167.7 180.2,1129.5 180.8,1141.5 181.4,1156.4 182.0,1159.8 182.6,1150.6 183.2,1147.7 183.8,1165.7 184.4,1128.6 185.0,1138.8 185.6,1146.7 186.2,1139.6 186.8,1140.9 187.4,1132.2 188.0,1141.7 188.6,1130.0 189.2,1127.1 189.8,1146.6 190.4,1148.1 191.0,1152.7 191.6,1145.8 192.2,1151.0 192.8,1143.3 193.4,1140.1 194.0,1137.7 194.6,1155.5 195.2,1132.0 195.8,1146.6 195.8,1266.3 196.4,1271.6 197.0,1291.2 197.6,1261.5 198.3,1288.2 198.9,1250.3 199.5,1264.3 200.1,1244.3 200.7,1256.3 201.3,1255.6 202.0,1246.4 202.6,1265.4 203.2,1244.6 203.8,1266.5 204.4,1261.5 205.0,1273.8 205.7,1257.7 206.3,1256.0 206.9,1271.5 207.5,1281.8 208.1,1265.4 208.7,1259.3 209.4,1267.0 210.0,1277.7 210.6,1274.4 211.2,1268.4 211.8,1299.5 212.4,1272.6 213.1,1245.9 213.7,1281.8 214.3,1267.8 214.9,1242.6 215.5,1255.6 216.1,1252.8 216.8,1266.8 217.4,1282.4 218.0,1226.9 218.6,1260.9 218.6,1139.6 219.2,1117.0 219.8,1129.8 220.4,1141.3 221.0,1159.3 221.6,1143.8 222.2,1143.3 222.8,1151.3 223.4,1153.9 224.0,1155.7 224.6,1141.3 225.2,1148.4 225.8,1132.2 226.4,1122.2 227.0,1132.8 227.6,1137.1 228.2,1112.3 228.8,1126.3 229.4,1159.6 230.1,1147.2 230.7,1132.4 231.3,1149.0 231.9,1122.7 232.5,1162.0 233.1,1164.1 233.7,1117.9 234.3,1123.9 234.9,1158.0 235.5,1131.1 236.1,1110.6 236.7,1149.1 237.3,1149.9 237.9,1150.0 238.5,1145.9 239.1,1157.4 239.7,1137.2 240.3,1152.1 240.9,1127.7 241.5,1092.9 242.1,1144.6 242.7,1113.2 243.3,1108.6 243.9,1163.3 244.5,1124.6 245.1,1126.1 245.7,1130.9 246.3,1112.5 246.9,1131.7 247.5,1118.8 248.1,1130.1 248.7,1125.7 249.3,1135.6 249.9,1086.7 250.5,1123.3 251.2,1139.7 251.8,1090.7 252.4,1096.2 253.0,1123.9 253.6,1130.8 254.2,1131.6 254.8,1100.0 255.4,1124.4 256.0,1130.1 256.6,1105.0 257.2,1122.2 257.8,1118.4 258.4,1086.5 259.0,1103.1 259.6,1096.7 260.2,1109.4 260.8,1095.2 261.4,1117.9 262.0,1099.5 262.0,1276.1 262.6,1291.5 263.2,1300.7 263.8,1281.5 264.4,1288.4 265.0,1280.7 265.6,1293.5 266.2,1281.5 266.8,1277.0 267.4,1262.1 268.0,1268.2 268.6,1283.0 269.2,1271.9 269.8,1293.7 270.4,1274.7 271.0,1285.6 271.6,1273.1 272.2,1283.6 272.8,1289.5 273.4,1294.6 274.0,1273.8 274.6,1286.5 275.2,1279.6 275.8,1282.0 276.4,1308.7 277.0,1280.7 277.6,1291.0 277.6,1161.5 278.2,1160.5 278.9,1184.7 279.5,1168.9 280.1,1166.3 280.7,1161.5 281.4,1155.7 282.0,1172.8 282.6,1168.1 283.2,1159.0 283.9,1185.0 284.5,1146.0 285.1,1175.6 285.7,1151.7 286.4,1164.1 287.0,1145.7 287.6,1154.6 288.2,1166.0 288.9,1183.5 289.5,1164.2 290.1,1162.2 290.7,1159.9 291.4,1178.9 292.0,1174.3 292.0,1340.9 292.6,1332.5 293.2,1338.8 293.8,1332.4 294.4,1324.2 295.0,1331.7 295.6,1318.7 296.2,1324.3 296.8,1326.5 297.4,1316.3 298.0,1319.0 298.6,1322.8 299.2,1323.4 299.8,1318.5 300.4,1314.5 301.0,1307.9 301.6,1312.3 302.2,1316.8 302.8,1320.2 303.4,1308.4 304.0,1306.1 304.6,1299.9 305.2,1309.5 305.8,1313.2 306.4,1297.8 307.0,1303.1 307.6,1308.6 308.2,1288.3 308.8,1292.1 309.4,1296.1 310.0,1293.4 310.6,1298.8 311.2,1286.0 311.8,1294.0 312.4,1292.8 313.0,1290.4 313.6,1294.6 313.6,1143.7 314.2,1137.0 314.8,1146.5 315.4,1176.2 316.0,1157.8 316.6,1161.3 317.3,1150.6 317.9,1177.1 318.5,1177.3 319.1,1159.4 319.7,1144.2 320.3,1156.6 320.9,1131.3 321.5,1163.5 322.1,1154.2 322.7,1156.1 323.3,1163.3 323.9,1142.9 324.6,1168.5 325.2,1165.7 325.8,1158.4 326.4,1159.6 327.0,1142.7 327.6,1160.1 328.2,1149.3 328.8,1159.5 329.4,1141.1 330.0,1154.8 330.6,1151.8 331.2,1171.8 331.9,1147.1 332.5,1161.3 333.1,1145.2 333.7,1149.2 334.3,1148.8 334.9,1142.7 335.5,1150.6 336.1,1163.8 336.7,1152.9 337.3,1152.8 337.9,1167.0 338.5,1148.1 339.2,1139.1 339.8,1152.0 340.4,1153.4 341.0,1149.7 341.6,1143.0 342.2,1160.3 342.8,1144.5 343.4,1162.4 344.0,1149.0 344.6,1149.1 345.2,1168.1 345.8,1147.6 346.5,1152.3 347.1,1172.1 347.7,1159.3 348.3,1161.2 348.9,1163.9 349.5,1150.2 350.1,1162.9 350.7,1154.0 351.3,1166.0 351.9,1157.4 352.5,1135.4 353.1,1150.2 353.8,1170.9 354.4,1164.5 355.0,1156.0 355.6,1171.7 356.2,1144.3 356.8,1155.0 356.8,1298.9 357.4,1297.6 358.0,1305.3 358.6,1310.2 359.2,1330.9 359.8,1315.2 360.4,1295.7 361.0,1291.0 361.6,1300.1 362.2,1317.5 362.8,1301.7 363.4,1297.8 364.0,1311.8 364.6,1283.7 365.2,1310.0 365.8,1298.2 366.4,1309.6 367.0,1288.6 367.6,1311.4 368.2,1307.6 368.8,1286.5 369.4,1311.4 370.0,1303.9 370.6,1292.5 371.2,1294.4 371.8,1316.6 372.4,1291.8 373.0,1301.3 373.6,1285.3 374.2,1316.4 374.8,1290.1 374.8,1193.5 375.4,1203.7 376.0,1204.3 376.7,1193.7 377.3,1207.8 377.9,1203.3 378.5,1208.9 379.1,1197.0 379.7,1189.9 380.4,1219.7 381.0,1198.4 381.6,1194.7 382.2,1179.0 382.8,1208.5 383.4,1182.3 384.1,1204.6 384.7,1192.4 385.3,1195.9 385.9,1195.2 386.5,1203.3 387.1,1211.7 387.8,1179.2 388.4,1179.7 389.0,1200.3 389.0,1315.4 389.6,1315.9 390.2,1327.7 390.8,1325.4 391.4,1309.3 392.0,1303.7 392.6,1316.1 393.2,1323.5 393.8,1325.0 394.4,1320.1 395.0,1306.3 395.6,1313.2 396.2,1328.7 396.8,1325.9 397.4,1310.2 398.0,1310.5 398.6,1295.2 399.3,1298.5 399.9,1311.7 400.5,1320.8 401.1,1311.5 401.7,1325.6 402.3,1320.9 402.9,1303.1 403.5,1307.3 404.1,1304.0 404.7,1297.3 405.3,1318.0 405.9,1305.3 406.5,1312.9 407.1,1310.4 407.7,1311.3 408.3,1308.0 408.3,1154.4 408.9,1154.2 409.5,1131.1 410.1,1124.9 410.7,1140.2 411.3,1134.2 411.9,1154.8 412.5,1117.4 413.1,1125.3 413.7,1108.9 414.3,1139.0 414.9,1134.1 415.5,1131.5 416.1,1111.0 416.7,1123.7 417.3,1126.4 417.9,1158.5 418.5,1146.1 419.1,1155.8 419.7,1135.5 420.3,1119.0 420.9,1131.7 421.5,1147.1 422.1,1100.5 422.7,1149.9 423.3,1110.7 423.9,1114.2 424.5,1128.5 425.1,1111.3 425.7,1149.7 426.3,1141.3 426.9,1137.3 427.5,1126.7 428.1,1135.4 428.7,1105.7 429.3,1138.6 429.9,1136.2 430.5,1151.7 431.1,1125.0 431.7,1120.0 432.3,1144.5 432.9,1152.4 433.5,1154.4 434.1,1114.2 434.7,1120.1 435.3,1128.2 435.9,1120.6 436.5,1124.9 437.1,1125.4 437.7,1158.2 438.3,1124.4 438.9,1121.5 439.5,1114.7 440.1,1117.3 440.7,1143.3 441.3,1128.4 441.9,1154.9 442.5,1109.9 443.1,1154.2 443.7,1121.5 444.3,1145.0 444.9,1145.5 445.5,1146.7 446.1,1137.7 446.7,1126.6 447.3,1114.9 447.9,1137.3 448.5,1119.1 449.1,1118.8 449.7,1100.1 450.3,1142.0 450.3,1316.3 450.9,1311.2 451.5,1318.4 452.1,1312.1 452.7,1329.1 453.3,1325.0 453.9,1328.6 454.5,1328.7 455.1,1332.0 455.7,1321.7 456.3,1336.5 456.9,1327.9 457.5,1312.7 458.1,1341.0 458.7,1334.2 459.3,1325.7 459.9,1334.4 460.6,1333.5 461.2,1295.7 461.8,1316.0 462.4,1326.4 463.0,1330.1 463.6,1340.8 464.2,1335.7 464.8,1350.8 465.4,1313.0 466.0,1327.1 466.6,1308.5 467.2,1320.5 467.8,1346.7 468.4,1295.4 469.0,1313.7 469.6,1308.7 470.2,1327.7 470.8,1327.8 470.8,1146.1 471.4,1120.1 472.0,1160.2 472.6,1157.8 473.2,1136.9 473.8,1169.6 474.4,1124.2 475.1,1158.8 475.7,1128.1 476.3,1145.6 476.9,1148.3 477.5,1158.7 478.1,1124.6 478.7,1147.3 479.3,1161.3 479.9,1135.3 480.5,1145.5 481.1,1136.8 481.7,1149.0 482.4,1138.8 483.0,1137.7 483.6,1143.4 484.2,1165.1 484.8,1137.2 485.4,1125.6 486.0,1137.9 486.0,1264.0 486.6,1265.9 487.2,1280.2 487.8,1262.3 488.4,1279.3 489.0,1289.4 489.6,1292.7 490.2,1262.6 490.8,1266.9 491.4,1267.9 492.0,1283.6 492.6,1300.1 493.2,1266.0 493.8,1277.4 494.4,1284.2 495.0,1284.2 495.6,1283.7 496.2,1300.6 496.8,1268.0 497.4,1266.9 498.0,1264.7 498.6,1280.9 499.2,1292.6 499.8,1294.2 500.4,1280.2 501.0,1253.3 501.6,1264.0 502.2,1275.8 502.8,1270.0 503.4,1265.5 504.0,1275.4 504.0,1129.6 504.6,1131.3 505.2,1143.1 505.8,1151.9 506.4,1145.7 507.0,1124.7 507.7,1162.0 508.3,1148.4 508.9,1149.6 509.5,1145.1 510.1,1152.9 510.7,1138.1 511.3,1154.7 511.9,1151.4 512.5,1143.4 513.1,1172.8 513.7,1141.3 514.3,1143.6 515.0,1175.8 515.6,1161.2 516.2,1171.1 516.8,1167.6 517.4,1154.0 518.0,1190.3 518.0,1154.7 518.6,1156.6 519.2,1158.7 519.8,1126.2 520.5,1158.1 521.1,1167.8 521.7,1139.6 522.3,1139.2 522.9,1145.8 523.5,1162.0 524.1,1155.4 524.8,1105.6 525.4,1143.4 526.0,1101.9 526.6,1105.8 527.2,1141.8 527.8,1106.9 528.4,1097.6 529.0,1087.9 529.7,1081.5 530.3,1078.9 530.9,1092.4 531.5,1091.6 531.5,1336.5 532.1,1334.1 532.7,1340.2 533.3,1341.1 533.9,1328.2 534.5,1333.9 535.1,1333.8 535.7,1339.3 536.3,1342.2 536.9,1340.9 537.5,1342.7 538.1,1342.4 538.7,1346.5 539.3,1338.3 539.9,1339.8 540.6,1338.4 541.2,1341.6 541.8,1345.0 542.4,1334.6 543.0,1339.3 543.6,1341.1 544.2,1340.3 544.8,1345.3 545.4,1341.6 546.0,1347.8 546.6,1341.3 547.2,1342.0 547.8,1342.7 548.4,1344.9 549.0,1346.3" fill="none" stroke="#f00" stroke-width="1.8" stroke-linejoin="round"/><polyline points="101.0,1347.6 101.5,1349.3 102.0,1339.3 102.5,1347.3 103.0,1348.1 103.5,1347.3 104.0,1349.8 104.5,1350.3 105.0,1346.8 105.5,1349.4 106.0,1345.8 106.5,1348.6 107.0,1352.8 107.5,1351.4 108.0,1350.1 108.5,1353.1 109.0,1347.7 109.5,1348.2 110.0,1344.7 110.5,1349.6 111.0,1347.8 111.5,1345.5 112.0,1344.9 112.5,1349.7 113.0,1342.5 113.5,1348.4 114.0,1343.3 114.5,1347.3 115.0,1347.6 115.5,1349.8 116.0,1346.6 116.5,1339.5 117.0,1347.8 117.5,1341.7 118.0,1342.2 118.5,1346.8 119.0,1342.6 119.5,1341.7 120.0,1346.3 120.5,1346.9 121.0,1342.2 121.5,1344.2 122.0,1339.2 122.5,1343.8 123.0,1348.1 123.5,1345.0 124.0,1348.0 124.5,1342.6 125.0,1342.6 125.0,1047.0 125.5,1050.7 126.0,1038.7 126.5,1048.0 127.0,1037.3 127.5,1053.0 128.0,1048.5 128.5,1050.8 129.0,1054.6 129.5,1028.9 130.0,1036.5 130.5,1053.0 131.0,1043.5 131.5,1062.0 132.0,1041.1 132.5,1042.7 133.0,1053.1 133.5,1053.6 134.0,1049.8 134.5,1048.7 135.0,1054.8 135.5,1058.7 136.1,1055.0 136.6,1056.5 137.1,1048.5 137.6,1053.8 138.1,1053.1 138.6,1066.8 139.1,1058.3 139.6,1058.7 140.1,1060.0 140.6,1057.6 141.1,1059.3 141.6,1068.2 142.1,1051.5 142.6,1052.0 143.1,1062.4 143.6,1054.9 144.1,1066.2 144.6,1068.9 145.1,1061.9 145.6,1050.1 146.1,1062.0 146.6,1072.3 147.1,1060.4 147.6,1066.5 148.1,1067.9 148.6,1060.8 149.1,1075.9 149.6,1076.6 150.1,1074.7 150.6,1057.3 151.1,1064.6 151.6,1069.9 152.1,1070.9 152.6,1061.9 153.1,1058.2 153.6,1072.4 154.1,1065.9 154.6,1051.7 155.1,1064.3 155.6,1071.2 156.1,1067.0 156.6,1069.0 157.1,1065.5 157.7,1068.1 158.2,1074.4 158.7,1072.2 159.2,1069.1 159.7,1076.9 160.2,1072.1 160.7,1079.3 161.2,1064.8 161.7,1062.9 162.2,1080.3 162.7,1068.7 163.2,1073.8 163.7,1074.8 164.2,1077.6 164.7,1074.4 165.2,1069.7 165.7,1085.6 166.2,1070.4 166.7,1079.7 167.2,1085.9 167.7,1079.0 168.2,1074.7 168.2,1132.7 168.7,1143.1 169.2,1159.2 169.8,1172.9 170.3,1176.9 170.8,1200.3 171.3,1202.1 171.9,1218.3 172.4,1234.3 172.9,1246.6 173.4,1259.5 174.0,1270.7 174.5,1283.3 175.0,1296.4 175.0,1306.4 175.5,1286.9 176.0,1252.9 176.5,1237.8 177.0,1217.1 177.5,1194.4 178.0,1179.2 178.5,1144.1 179.0,1132.2 179.0,1102.4 179.5,1108.5 180.0,1095.1 180.5,1096.2 181.0,1090.9 181.5,1095.0 182.1,1106.8 182.6,1109.9 183.1,1091.8 183.6,1105.8 184.1,1101.9 184.6,1102.3 185.1,1097.7 185.6,1097.4 186.1,1108.3 186.6,1105.6 187.1,1113.1 187.7,1097.3 188.2,1102.3 188.7,1112.8 189.2,1094.0 189.7,1101.1 190.2,1108.1 190.7,1104.0 191.2,1105.2 191.7,1100.4 192.2,1099.8 192.7,1105.1 193.3,1098.2 193.8,1119.0 194.3,1103.5 194.8,1096.7 195.3,1094.6 195.8,1095.7 195.8,1350.8 196.3,1353.4 196.8,1347.9 197.3,1337.2 197.8,1345.4 198.3,1349.6 198.8,1353.4 199.3,1345.9 199.9,1348.4 200.4,1344.5 200.9,1345.8 201.4,1353.4 201.9,1347.1 202.4,1343.3 202.9,1349.0 203.4,1351.5 203.9,1351.3 204.4,1352.0 204.9,1337.6 205.4,1340.8 205.9,1349.1 206.4,1341.0 206.9,1350.9 207.5,1348.8 208.0,1349.6 208.5,1347.3 209.0,1343.9 209.5,1338.3 210.0,1343.6 210.5,1347.0 211.0,1345.9 211.5,1347.5 212.0,1345.1 212.5,1350.1 213.0,1345.6 213.5,1344.7 214.0,1342.7 214.5,1350.0 215.1,1344.9 215.6,1345.5 216.1,1349.9 216.6,1353.4 217.1,1348.9 217.6,1343.0 218.1,1347.8 218.6,1337.3 218.6,1179.2 219.1,1187.9 219.6,1183.7 220.1,1179.9 220.6,1179.8 221.1,1184.7 221.6,1179.9 222.1,1163.0 222.6,1176.8 223.1,1181.9 223.6,1186.2 224.2,1195.1 224.7,1181.9 225.2,1185.8 225.7,1183.4 226.2,1186.8 226.7,1177.8 227.2,1175.8 227.7,1187.8 228.2,1192.4 228.7,1180.9 229.2,1173.7 229.7,1180.3 230.2,1179.8 230.7,1192.5 231.2,1186.8 231.7,1179.1 232.2,1180.6 232.7,1183.1 233.2,1179.2 233.7,1177.3 234.2,1182.5 234.7,1187.9 235.3,1192.6 235.8,1181.7 236.3,1184.2 236.8,1184.3 237.3,1175.6 237.8,1187.5 238.3,1184.9 238.8,1178.7 239.3,1189.1 239.8,1197.6 240.3,1186.8 240.8,1177.6 241.3,1187.2 241.8,1184.8 242.3,1195.6 242.8,1175.1 243.3,1194.9 243.8,1187.6 244.3,1184.3 244.8,1170.0 245.3,1182.3 245.9,1187.9 246.4,1193.2 246.9,1185.2 247.4,1191.4 247.9,1187.3 248.4,1182.8 248.9,1174.9 249.4,1190.5 249.9,1173.9 250.4,1196.2 250.9,1170.1 251.4,1187.5 251.9,1185.6 252.4,1186.3 252.9,1181.6 253.4,1183.5 253.9,1185.3 254.4,1187.8 254.9,1186.8 255.4,1182.7 255.9,1186.7 256.4,1187.7 257.0,1192.8 257.5,1182.9 258.0,1179.8 258.5,1190.0 259.0,1176.4 259.5,1183.4 260.0,1182.4 260.5,1194.6 261.0,1179.0 261.5,1174.7 262.0,1170.1 262.0,1246.9 262.5,1247.9 263.0,1247.2 263.6,1253.3 264.1,1265.9 264.6,1265.9 265.1,1264.5 265.6,1272.0 266.2,1280.8 266.7,1278.2 267.2,1299.8 267.7,1291.7 268.2,1303.7 268.8,1306.4 269.3,1303.3 269.8,1301.8 269.8,1310.4 270.3,1307.9 270.8,1293.0 271.4,1294.2 271.9,1309.3 272.4,1293.9 272.9,1289.6 273.4,1284.9 274.0,1285.7 274.5,1266.7 275.0,1265.1 275.5,1249.9 276.0,1258.7 276.6,1251.3 277.1,1252.4 277.6,1235.9 277.6,1172.4 278.1,1169.6 278.6,1174.0 279.1,1184.6 279.7,1172.7 280.2,1186.8 280.7,1184.9 281.2,1182.0 281.7,1166.9 282.2,1185.4 282.7,1187.3 283.3,1179.2 283.8,1172.9 284.3,1177.0 284.8,1177.1 285.3,1186.3 285.8,1183.3 286.3,1172.2 286.9,1180.0 287.4,1185.0 287.9,1183.0 288.4,1171.8 288.9,1169.3 289.4,1178.0 289.9,1186.1 290.5,1169.6 291.0,1184.9 291.5,1180.0 292.0,1177.9 292.0,1346.5 292.5,1347.2 293.0,1340.1 293.5,1345.2 294.0,1352.2 294.5,1348.8 295.0,1341.3 295.5,1347.2 296.0,1350.6 296.5,1342.9 297.0,1344.6 297.5,1346.3 298.0,1344.2 298.5,1348.0 299.0,1345.8 299.5,1344.2 300.0,1348.7 300.5,1341.6 301.0,1350.6 301.5,1338.3 302.0,1346.2 302.5,1345.0 303.1,1351.3 303.6,1343.4 304.1,1349.8 304.6,1344.5 305.1,1346.4 305.6,1349.7 306.1,1339.5 306.6,1345.8 307.1,1348.5 307.6,1347.9 308.1,1345.2 308.6,1346.3 309.1,1343.1 309.6,1348.7 310.1,1345.6 310.6,1348.4 311.1,1349.2 311.6,1343.3 312.1,1349.7 312.6,1352.9 313.1,1343.9 313.6,1348.5 313.6,1182.7 314.1,1183.0 314.6,1183.1 315.1,1186.5 315.6,1174.8 316.1,1195.4 316.6,1177.9 317.1,1188.2 317.6,1184.7 318.1,1190.4 318.6,1180.3 319.1,1183.2 319.6,1190.6 320.1,1186.6 320.6,1183.2 321.1,1188.1 321.6,1167.5 322.1,1182.5 322.6,1190.1 323.1,1179.0 323.6,1184.9 324.1,1191.1 324.7,1189.7 325.2,1199.6 325.7,1181.0 326.2,1175.1 326.7,1187.6 327.2,1193.3 327.7,1200.5 328.2,1196.6 328.7,1187.0 329.2,1192.0 329.7,1188.2 330.2,1193.6 330.7,1188.2 331.2,1188.8 331.7,1185.6 332.2,1186.3 332.7,1185.5 333.2,1193.4 333.7,1189.2 334.2,1196.6 334.7,1190.9 335.2,1187.3 335.7,1183.6 336.2,1197.6 336.7,1194.5 337.2,1191.2 337.7,1196.5 338.2,1189.3 338.7,1188.6 339.2,1192.7 339.7,1174.3 340.2,1190.4 340.7,1185.1 341.2,1201.0 341.7,1180.5 342.2,1184.6 342.7,1185.5 343.2,1203.9 343.7,1187.6 344.2,1192.4 344.7,1183.9 345.2,1187.3 345.7,1191.2 346.3,1190.7 346.8,1177.4 347.3,1178.5 347.8,1200.5 348.3,1190.6 348.8,1182.2 349.3,1190.4 349.8,1184.7 350.3,1189.6 350.8,1174.3 351.3,1181.5 351.8,1188.6 352.3,1176.0 352.8,1182.0 353.3,1173.9 353.8,1190.7 354.3,1198.9 354.8,1180.9 355.3,1186.9 355.8,1200.8 356.3,1217.2 356.8,1186.4 356.8,1348.6 357.3,1350.9 357.8,1350.0 358.3,1348.5 358.8,1352.4 359.3,1345.5 359.8,1352.2 360.3,1348.7 360.8,1348.8 361.3,1350.1 361.8,1350.8 362.3,1346.6 362.8,1353.0 363.3,1348.8 363.8,1344.6 364.3,1350.8 364.8,1352.8 365.3,1350.1 365.8,1353.4 366.3,1350.8 366.8,1351.9 367.3,1351.0 367.8,1351.2 368.3,1347.3 368.8,1348.8 369.3,1351.5 369.8,1345.5 370.3,1351.4 370.8,1345.0 371.3,1350.1 371.8,1351.3 372.3,1350.1 372.8,1345.1 373.3,1348.5 373.8,1348.9 374.3,1353.2 374.8,1348.9 374.8,1178.5 375.3,1178.8 375.8,1181.6 376.3,1186.9 376.8,1168.1 377.3,1182.8 377.8,1172.5 378.4,1172.7 378.9,1175.4 379.4,1175.5 379.9,1172.2 380.4,1178.7 380.9,1177.0 381.4,1174.3 381.9,1175.2 382.4,1178.5 382.9,1194.2 383.4,1176.7 383.9,1184.7 384.4,1168.8 384.9,1168.2 385.4,1174.9 386.0,1174.8 386.5,1189.8 387.0,1177.6 387.5,1181.6 388.0,1164.4 388.5,1185.2 389.0,1161.7 389.0,1243.9 389.5,1256.2 390.0,1230.8 390.5,1244.1 391.0,1240.3 391.5,1235.4 392.0,1253.1 392.6,1245.9 393.1,1241.8 393.6,1234.3 394.1,1243.9 394.6,1238.8 395.1,1254.3 395.6,1239.2 396.1,1248.8 396.6,1245.0 397.1,1242.0 397.6,1236.8 398.1,1247.2 398.6,1239.8 399.2,1244.7 399.7,1238.5 400.2,1245.7 400.7,1233.4 401.2,1249.5 401.7,1249.5 402.2,1234.2 402.7,1247.5 403.2,1238.3 403.7,1238.0 404.2,1253.8 404.7,1244.6 405.3,1245.8 405.8,1243.5 406.3,1252.5 406.8,1241.5 407.3,1241.4 407.8,1250.0 408.3,1242.6 408.3,1042.4 408.8,1055.4 409.3,1044.7 409.8,1038.5 410.3,1039.7 410.8,1052.0 411.3,1050.1 411.8,1045.1 412.3,1042.7 412.8,1040.2 413.3,1045.2 413.8,1040.7 414.3,1050.5 414.8,1034.2 415.3,1047.7 415.8,1053.1 416.3,1050.7 416.8,1059.0 417.3,1052.3 417.8,1049.6 418.3,1044.5 418.8,1040.5 419.3,1053.8 419.8,1053.2 420.3,1043.9 420.8,1041.8 421.3,1043.8 421.8,1047.4 422.3,1056.9 422.8,1053.0 423.3,1059.9 423.8,1054.4 424.3,1041.8 424.8,1039.9 425.3,1052.2 425.8,1046.6 426.3,1041.9 426.8,1058.0 427.3,1060.2 427.8,1055.7 428.3,1065.5 428.8,1047.2 429.3,1052.5 429.8,1054.1 430.3,1052.0 430.8,1049.3 431.3,1052.9 431.8,1061.0 432.3,1048.9 432.8,1056.8 433.3,1051.6 433.8,1058.2 434.3,1053.8 434.8,1064.4 435.3,1053.4 435.8,1056.5 436.3,1047.6 436.8,1060.2 437.3,1060.8 437.8,1050.6 438.3,1068.4 438.8,1051.5 439.3,1056.4 439.8,1059.0 440.3,1055.6 440.8,1058.2 441.3,1062.6 441.8,1052.0 442.3,1062.8 442.8,1056.3 443.3,1058.6 443.8,1062.4 444.3,1061.9 444.8,1056.0 445.3,1060.4 445.8,1049.4 446.3,1052.8 446.8,1061.6 447.3,1052.2 447.8,1074.6 448.3,1047.9 448.8,1068.0 449.3,1068.0 449.8,1052.5 450.3,1070.7 450.3,1351.1 450.8,1348.3 451.3,1353.4 451.8,1349.5 452.3,1346.7 452.8,1351.0 453.3,1345.2 453.8,1351.5 454.3,1345.3 454.8,1348.0 455.3,1348.8 455.8,1349.7 456.3,1351.7 456.8,1346.3 457.3,1352.2 457.8,1349.1 458.3,1347.2 458.8,1347.9 459.3,1347.3 459.8,1350.8 460.3,1352.5 460.8,1348.5 461.3,1349.5 461.8,1346.3 462.3,1353.4 462.8,1349.2 463.3,1348.1 463.8,1350.4 464.3,1353.4 464.8,1349.1 465.3,1346.4 465.8,1351.0 466.3,1351.6 466.8,1351.8 467.3,1351.8 467.8,1353.4 468.3,1340.8 468.8,1349.7 469.3,1346.0 469.8,1346.0 470.3,1350.6 470.8,1347.6 470.8,1054.4 471.3,1057.8 471.8,1060.1 472.3,1071.7 472.8,1071.3 473.3,1066.9 473.8,1057.1 474.3,1072.2 474.9,1063.1 475.4,1060.0 475.9,1062.5 476.4,1068.0 476.9,1072.4 477.4,1063.6 477.9,1070.6 478.4,1066.0 478.9,1072.0 479.4,1072.3 479.9,1072.0 480.4,1075.8 480.9,1063.1 481.4,1078.5 481.9,1067.0 482.5,1072.6 483.0,1066.6 483.5,1080.9 484.0,1070.1 484.5,1069.9 485.0,1061.1 485.5,1063.8 486.0,1068.2 486.0,1216.9 486.5,1216.2 487.0,1209.7 487.5,1207.8 488.0,1212.5 488.5,1208.5 489.0,1226.4 489.5,1210.1 490.0,1203.3 490.5,1215.6 491.0,1220.2 491.5,1207.2 492.0,1228.6 492.5,1208.4 493.0,1224.1 493.5,1213.1 494.0,1223.9 494.5,1206.5 495.0,1215.9 495.5,1220.2 496.0,1216.4 496.5,1207.2 497.0,1206.2 497.5,1214.7 498.0,1217.7 498.5,1206.3 499.0,1215.2 499.5,1219.9 500.0,1203.5 500.5,1226.6 501.0,1214.0 501.5,1205.5 502.0,1213.1 502.5,1214.3 503.0,1209.8 503.5,1222.3 504.0,1215.9 504.0,1132.2 504.5,1125.3 505.0,1128.8 505.5,1131.3 506.0,1123.6 506.5,1123.0 507.0,1139.7 507.5,1114.9 508.0,1129.3 508.5,1134.8 509.0,1120.5 509.5,1147.8 510.0,1139.6 510.5,1129.8 511.0,1136.0 511.5,1139.3 512.0,1133.4 512.5,1121.8 513.0,1131.3 513.5,1126.1 514.0,1126.7 514.5,1131.7 515.0,1131.3 515.5,1135.9 516.0,1130.0 516.5,1126.3 517.0,1132.7 517.5,1131.8 518.0,1128.3 518.5,1131.0 519.0,1129.5 519.5,1143.6 520.0,1129.0 520.5,1142.1 521.0,1127.4 521.5,1132.6 522.0,1134.4 522.5,1139.5 523.0,1125.6 523.5,1134.3 524.0,1134.4 524.5,1143.8 525.0,1121.5 525.5,1135.0 526.0,1137.0 526.5,1124.0 527.0,1128.0 527.5,1147.5 528.0,1132.3 528.5,1121.8 529.0,1133.2 529.5,1136.3 530.0,1126.3 530.5,1126.7 531.0,1137.3 531.0,988.9 531.4,988.9 531.8,988.9 531.8,1346.8 532.3,1344.7 532.8,1339.6 533.3,1348.5 533.8,1338.7 534.3,1340.9 534.8,1340.1 535.3,1340.2 535.8,1346.6 536.4,1349.7 536.9,1339.4 537.4,1344.2 537.9,1342.5 538.4,1340.7 538.9,1349.7 539.4,1345.1 539.9,1345.2 540.4,1349.0 540.9,1348.8 541.4,1345.6 541.9,1344.4 542.4,1341.1 542.9,1342.8 543.4,1340.9 543.9,1348.4 544.4,1345.8 545.0,1347.2 545.5,1348.4 546.0,1349.4 546.5,1342.4 547.0,1342.1 547.5,1347.8 548.0,1353.4 548.5,1352.9 549.0,1351.8" fill="none" stroke="#00f" stroke-width="1.8" stroke-dasharray="1.8 3.2" stroke-linejoin="round"/><polyline points="101.0,1315.8 101.4,1353.4 101.7,1339.2 102.1,1346.5 102.4,1353.4 102.8,1349.6 103.1,1348.3 103.5,1342.2 103.8,1335.3 104.2,1326.5 104.5,1336.7 104.9,1324.5 105.2,1332.8 105.6,1336.9 105.9,1340.7 106.3,1350.2 106.6,1353.4 107.0,1337.4 107.4,1338.1 107.7,1331.2 108.1,1330.5 108.4,1350.9 108.8,1343.2 109.1,1348.1 109.5,1319.7 109.8,1333.9 110.2,1330.3 110.5,1343.2 110.9,1347.5 111.2,1338.0 111.6,1331.2 111.9,1323.3 112.3,1348.7 112.6,1324.0 113.0,1339.1 113.4,1334.2 113.7,1331.1 114.1,1331.9 114.4,1319.7 114.8,1313.7 115.1,1320.3 115.5,1331.3 115.8,1318.2 116.2,1318.2 116.5,1311.4 116.9,1318.6 117.2,1342.7 117.6,1331.0 117.9,1325.8 118.3,1308.0 118.6,1321.3 119.0,1307.1 119.4,1314.7 119.7,1333.5 120.1,1316.8 120.4,1309.7 120.8,1311.1 121.1,1335.2 121.5,1309.8 121.8,1322.5 122.2,1341.9 122.5,1321.2 122.9,1339.0 123.2,1329.4 123.6,1293.4 123.9,1279.5 124.3,1297.3 124.6,1305.0 125.0,1285.3 125.0,1171.0 125.4,1199.0 125.7,1230.2 126.1,1160.3 126.4,1226.8 126.8,1239.8 127.1,1194.0 127.5,1179.3 127.8,1199.1 128.2,1159.5 128.5,1183.6 128.9,1177.7 129.2,1173.1 129.6,1195.1 129.9,1178.7 130.3,1134.5 130.6,1203.5 131.0,1180.7 131.3,1173.5 131.7,1196.2 132.0,1186.2 132.4,1221.6 132.7,1195.1 133.1,1185.4 133.4,1163.1 133.8,1167.0 134.1,1199.4 134.5,1211.0 134.8,1149.4 135.2,1169.5 135.5,1228.9 135.9,1196.2 136.2,1208.4 136.6,1202.5 136.9,1226.3 137.3,1199.3 137.6,1201.6 138.0,1196.1 138.3,1169.4 138.7,1187.0 139.0,1217.9 139.4,1229.2 139.8,1204.0 140.1,1168.9 140.5,1173.6 140.8,1206.3 141.2,1169.6 141.5,1185.4 141.9,1207.7 142.2,1186.1 142.6,1197.2 142.9,1219.5 143.3,1205.4 143.6,1193.2 144.0,1169.0 144.3,1219.2 144.7,1192.6 145.0,1197.5 145.4,1199.4 145.7,1224.5 146.1,1172.3 146.4,1171.8 146.8,1165.8 147.1,1190.1 147.5,1169.0 147.8,1189.3 148.2,1179.9 148.5,1208.5 148.9,1197.0 149.2,1209.0 149.6,1224.9 149.9,1212.1 150.3,1227.0 150.6,1227.2 151.0,1212.2 151.3,1217.0 151.7,1160.6 152.0,1167.2 152.4,1182.3 152.7,1188.8 153.1,1224.2 153.4,1200.4 153.8,1237.4 154.2,1220.4 154.5,1217.7 154.9,1215.5 155.2,1189.8 155.6,1225.2 155.9,1157.4 156.3,1220.0 156.6,1191.4 157.0,1243.5 157.3,1190.8 157.7,1236.8 158.0,1206.7 158.4,1211.4 158.7,1194.1 159.1,1198.9 159.4,1204.0 159.8,1215.9 160.1,1171.3 160.5,1223.2 160.8,1213.5 161.2,1224.1 161.5,1211.5 161.9,1235.4 162.2,1224.0 162.6,1204.8 162.9,1228.2 163.3,1206.4 163.6,1229.1 164.0,1186.7 164.3,1220.2 164.7,1180.2 165.0,1207.4 165.4,1221.2 165.7,1198.5 166.1,1194.2 166.4,1186.9 166.8,1190.2 167.1,1201.1 167.5,1245.5 167.8,1201.0 168.2,1223.1 168.2,1239.9 168.6,1239.9 168.9,1262.6 169.3,1253.1 169.6,1251.5 170.0,1273.2 170.4,1287.0 170.7,1280.4 171.1,1296.9 171.5,1296.8 171.8,1302.1 172.2,1331.1 172.6,1323.4 172.9,1345.0 173.3,1345.4 173.6,1341.8 174.0,1353.4 174.0,1353.4 174.4,1349.4 174.7,1335.3 175.1,1327.1 175.4,1318.5 175.8,1318.2 176.1,1312.3 176.5,1295.1 176.9,1297.5 177.2,1289.1 177.6,1269.1 177.9,1273.2 178.3,1266.2 178.6,1242.0 179.0,1243.5 179.0,1225.0 179.3,1193.4 179.7,1135.7 180.1,1116.8 180.4,1183.7 180.8,1162.4 181.1,1161.6 181.4,1170.7 181.8,1216.2 182.2,1156.1 182.5,1171.5 182.8,1182.5 183.2,1211.9 183.6,1190.9 183.9,1179.9 184.2,1182.8 184.6,1172.6 185.0,1185.7 185.3,1156.2 185.7,1164.2 186.0,1202.1 186.3,1190.4 186.7,1168.5 187.1,1189.3 187.4,1147.7 187.8,1189.0 188.1,1172.3 188.5,1164.6 188.8,1201.7 189.2,1150.9 189.5,1182.0 189.9,1192.7 190.2,1192.3 190.6,1213.6 190.9,1206.6 191.2,1145.7 191.6,1180.3 192.0,1183.6 192.3,1173.4 192.7,1165.3 193.0,1194.5 193.4,1182.1 193.7,1171.8 194.1,1156.1 194.4,1172.2 194.8,1142.3 195.1,1182.2 195.5,1184.7 195.8,1207.1 195.8,1315.0 196.2,1304.1 196.5,1318.3 196.9,1317.1 197.2,1329.9 197.6,1323.7 197.9,1321.4 198.3,1315.8 198.6,1297.2 199.0,1306.2 199.3,1299.7 199.7,1295.6 200.0,1321.7 200.4,1293.0 200.7,1313.6 201.1,1335.4 201.4,1324.0 201.8,1315.7 202.1,1338.8 202.5,1277.6 202.8,1315.2 203.2,1300.7 203.5,1333.6 203.9,1312.8 204.2,1310.3 204.6,1326.5 204.9,1310.4 205.3,1314.4 205.6,1308.5 206.0,1333.6 206.3,1306.2 206.7,1319.0 207.0,1328.0 207.4,1349.4 207.7,1317.5 208.1,1320.4 208.4,1276.7 208.8,1333.7 209.1,1290.8 209.5,1294.5 209.8,1307.9 210.2,1310.5 210.5,1306.5 210.9,1338.0 211.2,1292.0 211.6,1319.6 211.9,1326.3 212.3,1314.6 212.6,1353.4 213.0,1335.6 213.3,1333.3 213.7,1339.5 214.0,1305.2 214.4,1289.1 214.7,1314.3 215.1,1319.7 215.4,1309.4 215.8,1322.6 216.1,1312.5 216.5,1308.1 216.8,1318.2 217.2,1321.2 217.5,1313.5 217.9,1313.7 218.2,1303.8 218.6,1338.6 218.6,1190.7 218.9,1177.3 219.3,1156.7 219.7,1194.4 220.0,1141.4 220.3,1136.6 220.7,1182.7 221.0,1143.3 221.4,1211.4 221.8,1169.2 222.1,1201.3 222.4,1144.3 222.8,1149.2 223.2,1156.4 223.5,1179.6 223.8,1191.3 224.2,1158.5 224.5,1178.2 224.9,1153.0 225.2,1201.3 225.6,1158.4 225.9,1156.5 226.3,1215.7 226.7,1194.5 227.0,1182.6 227.3,1180.3 227.7,1204.2 228.0,1167.3 228.4,1191.7 228.8,1169.3 229.1,1206.6 229.4,1192.8 229.8,1153.0 230.2,1204.2 230.5,1168.6 230.8,1137.1 231.2,1150.7 231.6,1195.9 231.9,1120.7 232.2,1179.7 232.6,1148.1 232.9,1147.5 233.3,1174.6 233.7,1154.4 234.0,1226.4 234.3,1165.9 234.7,1164.5 235.1,1175.3 235.4,1165.3 235.8,1145.3 236.1,1148.0 236.4,1181.2 236.8,1151.2 237.2,1143.0 237.5,1165.5 237.8,1159.7 238.2,1219.9 238.6,1201.4 238.9,1160.0 239.2,1199.8 239.6,1150.0 239.9,1143.3 240.3,1189.0 240.7,1192.8 241.0,1172.3 241.3,1163.3 241.7,1150.7 242.1,1172.9 242.4,1167.4 242.8,1189.3 243.1,1162.1 243.4,1184.6 243.8,1146.9 244.2,1153.3 244.5,1203.0 244.8,1160.9 245.2,1191.5 245.6,1147.8 245.9,1190.2 246.2,1141.5 246.6,1145.6 246.9,1126.8 247.3,1161.3 247.7,1167.2 248.0,1142.5 248.3,1194.2 248.7,1169.2 249.1,1175.0 249.4,1169.6 249.8,1201.9 250.1,1203.9 250.4,1204.6 250.8,1137.2 251.2,1175.5 251.5,1155.1 251.8,1171.0 252.2,1173.4 252.6,1140.8 252.9,1217.5 253.2,1173.1 253.6,1185.0 253.9,1187.9 254.3,1202.7 254.7,1201.0 255.0,1193.8 255.3,1145.3 255.7,1183.0 256.1,1178.3 256.4,1172.1 256.8,1155.3 257.1,1146.5 257.4,1164.3 257.8,1168.3 258.1,1157.3 258.5,1185.3 258.9,1163.8 259.2,1132.6 259.6,1182.2 259.9,1186.5 260.2,1201.0 260.6,1167.3 260.9,1155.2 261.3,1177.4 261.6,1175.3 262.0,1143.4 262.0,1277.7 262.4,1267.1 262.7,1283.9 263.1,1257.5 263.4,1263.7 263.8,1280.4 264.1,1287.5 264.5,1237.8 264.8,1295.1 265.2,1293.3 265.5,1317.5 265.9,1267.1 266.3,1277.0 266.6,1279.3 267.0,1302.2 267.3,1277.7 267.7,1290.5 268.0,1296.5 268.4,1281.8 268.7,1273.0 269.1,1280.3 269.4,1285.9 269.8,1266.3 270.2,1274.0 270.5,1283.7 270.9,1268.8 271.2,1273.1 271.6,1263.4 271.9,1264.8 272.3,1266.2 272.6,1287.2 273.0,1257.0 273.3,1262.0 273.7,1286.4 274.1,1258.1 274.4,1276.3 274.8,1293.6 275.1,1278.4 275.5,1298.1 275.8,1260.0 276.2,1297.7 276.5,1254.7 276.9,1291.4 277.2,1279.9 277.6,1257.6 277.6,1117.6 278.0,1149.1 278.3,1125.2 278.7,1151.8 279.0,1112.5 279.4,1139.2 279.7,1124.5 280.1,1125.1 280.4,1146.8 280.8,1117.8 281.1,1095.0 281.5,1137.4 281.8,1132.1 282.2,1117.2 282.5,1103.9 282.9,1136.8 283.2,1119.9 283.6,1117.3 283.9,1106.4 284.3,1135.9 284.6,1084.2 285.0,1090.8 285.3,1144.3 285.7,1135.4 286.0,1117.2 286.4,1132.9 286.7,1131.1 287.1,1122.8 287.4,1134.4 287.8,1132.5 288.1,1119.5 288.5,1129.1 288.8,1117.1 289.2,1106.3 289.5,1105.2 289.9,1121.3 290.2,1090.5 290.6,1128.9 290.9,1108.7 291.3,1094.3 291.6,1119.6 292.0,1109.8 292.0,1269.2 292.4,1270.7 292.7,1258.6 293.1,1254.2 293.4,1256.0 293.8,1251.3 294.1,1256.7 294.5,1263.1 294.8,1271.3 295.2,1263.4 295.5,1260.9 295.9,1261.8 296.2,1278.6 296.6,1241.8 297.0,1244.5 297.3,1258.0 297.7,1269.0 298.0,1244.4 298.4,1265.1 298.7,1265.3 299.1,1252.2 299.4,1270.0 299.8,1259.4 300.1,1269.0 300.5,1251.9 300.9,1254.8 301.2,1250.2 301.6,1254.6 301.9,1256.3 302.3,1255.4 302.6,1249.0 303.0,1276.3 303.3,1279.6 303.7,1260.2 304.0,1258.8 304.4,1265.1 304.7,1238.0 305.1,1254.0 305.5,1241.8 305.8,1259.8 306.2,1282.5 306.5,1282.5 306.9,1244.5 307.2,1260.6 307.6,1268.7 307.9,1241.3 308.3,1234.6 308.6,1255.1 309.0,1241.3 309.4,1266.0 309.7,1275.8 310.1,1286.7 310.4,1244.3 310.8,1285.1 311.1,1267.4 311.5,1260.1 311.8,1252.2 312.2,1290.1 312.5,1264.8 312.9,1273.8 313.2,1238.7 313.6,1264.1 313.6,1132.1 314.0,1095.6 314.3,1119.5 314.7,1109.8 315.0,1117.0 315.4,1124.5 315.7,1110.5 316.1,1133.1 316.4,1143.4 316.8,1132.1 317.1,1112.3 317.5,1127.9 317.8,1105.6 318.2,1110.9 318.5,1118.7 318.9,1105.0 319.2,1116.1 319.6,1117.0 319.9,1126.2 320.3,1123.6 320.6,1123.1 321.0,1105.8 321.3,1097.6 321.7,1105.3 322.0,1118.1 322.4,1123.8 322.7,1118.0 323.1,1130.7 323.4,1122.2 323.8,1127.0 324.1,1122.5 324.5,1158.4 324.8,1122.0 325.2,1111.9 325.5,1138.4 325.9,1094.9 326.2,1119.7 326.6,1130.6 326.9,1100.2 327.3,1136.5 327.6,1080.3 328.0,1132.8 328.4,1107.5 328.7,1099.9 329.1,1111.2 329.4,1119.9 329.8,1132.7 330.1,1124.1 330.5,1118.5 330.8,1106.8 331.2,1155.9 331.5,1112.5 331.9,1139.1 332.2,1131.4 332.6,1123.4 332.9,1131.5 333.3,1112.6 333.6,1146.9 334.0,1114.6 334.3,1137.5 334.7,1127.5 335.0,1123.1 335.4,1143.5 335.7,1115.6 336.1,1089.3 336.4,1131.9 336.8,1135.7 337.1,1098.8 337.5,1096.4 337.8,1153.3 338.2,1127.5 338.5,1134.3 338.9,1119.4 339.2,1123.5 339.6,1137.5 339.9,1128.7 340.3,1105.0 340.6,1136.3 341.0,1118.5 341.3,1112.3 341.7,1095.6 342.0,1115.5 342.4,1118.3 342.8,1136.5 343.1,1118.1 343.5,1101.4 343.8,1114.9 344.2,1103.1 344.5,1129.2 344.9,1109.9 345.2,1125.8 345.6,1132.7 345.9,1131.5 346.3,1103.6 346.6,1113.0 347.0,1124.7 347.3,1125.9 347.7,1109.6 348.0,1128.8 348.4,1104.6 348.7,1117.2 349.1,1130.5 349.4,1124.8 349.8,1138.0 350.1,1138.4 350.5,1129.7 350.8,1129.4 351.2,1127.5 351.5,1133.5 351.9,1132.2 352.2,1116.9 352.6,1142.4 352.9,1160.7 353.3,1095.8 353.6,1120.3 354.0,1119.1 354.3,1104.1 354.7,1104.4 355.0,1099.7 355.4,1107.3 355.7,1110.1 356.1,1114.4 356.4,1123.8 356.8,1123.7 356.8,1327.2 357.2,1246.8 357.5,1273.9 357.9,1287.3 358.2,1254.3 358.6,1282.9 358.9,1266.2 359.3,1285.2 359.6,1289.8 360.0,1254.9 360.3,1270.0 360.7,1296.0 361.0,1261.9 361.4,1258.2 361.7,1276.5 362.1,1261.2 362.4,1252.0 362.8,1254.0 363.2,1262.3 363.5,1260.1 363.9,1247.0 364.2,1268.7 364.6,1276.2 364.9,1276.2 365.3,1222.4 365.6,1287.6 366.0,1271.7 366.3,1300.5 366.7,1272.6 367.0,1274.9 367.4,1273.4 367.7,1260.1 368.1,1249.2 368.4,1268.6 368.8,1284.3 369.2,1279.8 369.5,1271.8 369.9,1283.3 370.2,1273.2 370.6,1263.9 370.9,1268.8 371.3,1240.8 371.6,1297.6 372.0,1270.0 372.3,1255.8 372.7,1289.1 373.0,1298.4 373.4,1239.8 373.7,1257.3 374.1,1263.7 374.4,1253.6 374.8,1287.6 374.8,1166.1 375.2,1113.9 375.5,1142.0 375.9,1175.4 376.2,1146.6 376.6,1113.7 376.9,1164.8 377.3,1175.1 377.6,1189.2 378.0,1147.3 378.4,1146.1 378.7,1156.9 379.1,1155.1 379.4,1149.8 379.8,1156.6 380.1,1155.4 380.5,1125.3 380.8,1143.8 381.2,1134.2 381.5,1180.2 381.9,1162.1 382.3,1124.6 382.6,1141.5 383.0,1124.4 383.3,1172.6 383.7,1131.9 384.0,1155.3 384.4,1144.2 384.7,1157.7 385.1,1162.8 385.4,1164.9 385.8,1146.9 386.2,1124.1 386.5,1165.1 386.9,1155.9 387.2,1163.5 387.6,1160.7 387.9,1131.4 388.3,1152.8 388.6,1162.8 389.0,1130.8 389.0,1278.0 389.4,1277.9 389.7,1281.0 390.1,1292.5 390.4,1270.7 390.8,1293.0 391.1,1279.8 391.5,1280.9 391.8,1265.5 392.2,1285.8 392.5,1270.7 392.9,1309.7 393.2,1281.3 393.6,1280.3 393.9,1281.7 394.3,1314.6 394.6,1271.9 395.0,1293.0 395.3,1293.9 395.7,1259.1 396.0,1286.8 396.4,1268.8 396.7,1309.9 397.1,1272.5 397.4,1280.2 397.8,1278.7 398.1,1298.0 398.5,1277.8 398.8,1286.3 399.2,1262.2 399.5,1291.1 399.9,1308.1 400.2,1266.9 400.6,1299.9 400.9,1286.6 401.3,1271.5 401.6,1257.2 402.0,1274.6 402.3,1272.0 402.7,1280.3 403.0,1281.2 403.4,1284.1 403.7,1278.1 404.1,1297.1 404.4,1279.9 404.8,1265.1 405.1,1280.7 405.5,1285.3 405.8,1271.5 406.2,1296.5 406.5,1286.4 406.9,1248.1 407.2,1270.4 407.6,1271.2 407.9,1284.8 408.3,1294.1 408.3,1161.3 408.7,1143.4 409.0,1123.8 409.4,1144.8 409.7,1130.8 410.1,1148.2 410.4,1142.2 410.8,1137.8 411.1,1098.2 411.4,1141.7 411.8,1157.7 412.2,1129.3 412.5,1143.8 412.9,1135.2 413.2,1154.8 413.6,1129.8 413.9,1154.3 414.2,1137.6 414.6,1149.8 414.9,1155.1 415.3,1134.5 415.7,1137.2 416.0,1174.8 416.4,1132.8 416.7,1131.2 417.1,1140.8 417.4,1138.4 417.8,1139.3 418.1,1139.0 418.4,1148.9 418.8,1127.5 419.2,1124.5 419.5,1156.6 419.9,1142.6 420.2,1157.8 420.6,1150.7 420.9,1128.8 421.2,1143.2 421.6,1140.4 421.9,1149.3 422.3,1107.5 422.7,1125.7 423.0,1137.6 423.4,1140.5 423.7,1116.7 424.1,1125.1 424.4,1139.0 424.8,1146.3 425.1,1161.0 425.4,1122.9 425.8,1117.4 426.2,1107.5 426.5,1139.2 426.9,1129.8 427.2,1173.6 427.6,1133.4 427.9,1155.0 428.2,1156.1 428.6,1156.3 428.9,1156.9 429.3,1151.5 429.7,1135.2 430.0,1154.3 430.4,1149.1 430.7,1145.8 431.1,1112.7 431.4,1131.6 431.8,1153.1 432.1,1131.5 432.4,1118.2 432.8,1145.8 433.2,1132.4 433.5,1127.1 433.9,1165.1 434.2,1141.2 434.6,1145.4 434.9,1130.9 435.2,1123.4 435.6,1150.8 435.9,1166.7 436.3,1151.2 436.7,1143.4 437.0,1153.5 437.4,1139.8 437.7,1161.4 438.1,1135.4 438.4,1132.3 438.8,1112.9 439.1,1145.3 439.4,1128.2 439.8,1154.2 440.2,1154.0 440.5,1155.6 440.9,1145.4 441.2,1163.2 441.6,1170.9 441.9,1109.4 442.2,1148.1 442.6,1143.6 442.9,1140.7 443.3,1150.1 443.7,1146.8 444.0,1126.4 444.4,1139.4 444.7,1126.7 445.1,1161.7 445.4,1136.3 445.8,1157.5 446.1,1163.3 446.4,1132.4 446.8,1139.9 447.2,1132.9 447.5,1134.0 447.9,1173.5 448.2,1135.2 448.6,1114.7 448.9,1141.0 449.2,1129.0 449.6,1121.9 449.9,1116.6 450.3,1181.4 450.3,1330.9 450.7,1328.9 451.0,1330.2 451.4,1313.1 451.7,1342.8 452.1,1353.4 452.4,1323.5 452.8,1330.2 453.1,1313.6 453.5,1313.0 453.8,1322.2 454.2,1310.0 454.5,1343.5 454.9,1327.9 455.2,1343.9 455.6,1303.3 456.0,1330.3 456.3,1314.8 456.7,1321.1 457.0,1317.6 457.4,1314.2 457.7,1312.9 458.1,1317.1 458.4,1325.6 458.8,1317.7 459.1,1351.1 459.5,1338.4 459.8,1308.6 460.2,1319.8 460.6,1344.8 460.9,1343.0 461.3,1342.2 461.6,1331.9 462.0,1316.1 462.3,1327.3 462.7,1317.3 463.0,1343.3 463.4,1328.3 463.7,1324.9 464.1,1321.7 464.4,1317.8 464.8,1325.5 465.1,1316.6 465.5,1311.5 465.9,1320.7 466.2,1342.1 466.6,1335.5 466.9,1337.8 467.3,1307.3 467.6,1317.0 468.0,1326.1 468.3,1334.3 468.7,1334.3 469.0,1308.2 469.4,1329.1 469.7,1334.5 470.1,1336.8 470.4,1318.4 470.8,1350.4 470.8,1174.0 471.2,1156.3 471.5,1153.3 471.9,1156.8 472.2,1170.3 472.6,1153.2 472.9,1140.6 473.3,1178.5 473.6,1178.3 474.0,1171.1 474.3,1164.2 474.7,1173.5 475.0,1175.3 475.4,1199.7 475.7,1152.5 476.1,1181.6 476.5,1165.2 476.8,1173.5 477.2,1155.2 477.5,1184.3 477.9,1182.7 478.2,1164.5 478.6,1164.6 478.9,1173.2 479.3,1159.8 479.6,1173.3 480.0,1171.1 480.3,1183.7 480.7,1166.1 481.1,1151.9 481.4,1168.0 481.8,1166.7 482.1,1151.2 482.5,1172.0 482.8,1175.6 483.2,1164.3 483.5,1140.6 483.9,1171.7 484.2,1166.8 484.6,1160.9 484.9,1172.4 485.3,1171.4 485.6,1146.5 486.0,1191.7 486.0,1235.7 486.4,1229.1 486.7,1224.3 487.1,1239.5 487.4,1235.8 487.8,1251.6 488.1,1269.1 488.5,1239.7 488.8,1240.4 489.2,1236.6 489.5,1223.1 489.9,1204.7 490.2,1235.2 490.6,1216.9 490.9,1240.0 491.3,1237.7 491.6,1257.7 492.0,1239.0 492.4,1252.0 492.7,1239.7 493.1,1263.5 493.4,1226.1 493.8,1265.7 494.1,1235.6 494.5,1273.9 494.8,1243.1 495.2,1238.9 495.5,1230.4 495.9,1219.7 496.2,1261.4 496.6,1245.0 496.9,1246.5 497.3,1242.3 497.6,1224.5 498.0,1252.2 498.4,1258.9 498.7,1252.4 499.1,1229.5 499.4,1254.9 499.8,1270.6 500.1,1249.9 500.5,1225.2 500.8,1219.1 501.2,1253.1 501.5,1253.0 501.9,1231.6 502.2,1227.6 502.6,1243.2 502.9,1242.0 503.3,1231.0 503.6,1266.5 504.0,1221.2 504.0,1103.8 504.4,1120.5 504.7,1059.4 505.1,1083.0 505.4,1068.6 505.8,1113.2 506.1,1078.0 506.5,1078.3 506.8,1079.9 507.2,1080.9 507.5,1085.3 507.9,1085.0 508.2,1106.2 508.6,1045.8 508.9,1093.7 509.3,1108.3 509.6,1078.3 510.0,1089.0 510.3,1098.5 510.7,1023.3 511.0,1076.5 511.4,1118.2 511.7,1093.6 512.1,1091.6 512.4,1085.8 512.8,1072.3 513.1,1075.1 513.5,1048.2 513.8,1091.8 514.2,1089.6 514.5,1063.1 514.9,1060.8 515.2,1088.6 515.6,1093.8 515.9,1061.6 516.3,1071.3 516.6,1061.4 517.0,1062.2 517.3,1073.4 517.7,1079.6 518.0,1080.3 518.4,1083.1 518.7,1107.5 519.1,1073.1 519.4,1067.0 519.8,1069.6 520.1,1096.1 520.5,1087.2 520.8,1061.4 521.2,1062.1 521.5,1100.7 521.9,1111.5 522.2,1079.3 522.6,1111.8 522.9,1046.8 523.3,1085.9 523.6,1070.1 524.0,1119.5 524.3,1081.1 524.7,1079.8 525.0,1112.8 525.4,1048.3 525.7,1083.4 526.1,1075.1 526.4,1089.3 526.8,1079.3 527.1,1070.7 527.5,1076.3 527.8,1075.8 528.2,1114.5 528.5,1084.3 528.9,1108.1 529.2,1078.4 529.6,1098.2 529.9,1118.2 530.3,1053.2 530.6,1089.2 531.0,1090.7 531.0,922.6 531.4,922.6 531.8,922.6 531.8,1288.5 532.2,1315.5 532.5,1302.7 532.9,1303.2 533.2,1329.3 533.6,1304.9 533.9,1302.9 534.3,1317.5 534.6,1320.8 535.0,1330.3 535.3,1305.4 535.7,1328.0 536.0,1318.2 536.4,1338.4 536.7,1326.0 537.1,1344.6 537.4,1334.8 537.8,1315.4 538.1,1340.7 538.5,1340.8 538.8,1337.7 539.2,1335.0 539.5,1344.8 539.9,1328.8 540.2,1339.4 540.6,1323.8 540.9,1328.1 541.3,1331.6 541.6,1331.3 542.0,1330.7 542.3,1353.4 542.7,1312.1 543.0,1353.4 543.4,1321.9 543.7,1351.4 544.1,1353.4 544.4,1353.4 544.8,1353.4 545.1,1341.7 545.5,1349.4 545.8,1311.5 546.2,1345.6 546.5,1353.4 546.9,1331.7 547.2,1311.6 547.6,1353.4 547.9,1353.4 548.3,1353.4 548.6,1353.4 549.0,1353.4" fill="none" stroke="#0ff" stroke-width="2.1" stroke-dasharray="12 3" stroke-linejoin="round"/></g><rect x="544.4" y="917.7" width="180.00" height="98.10" fill="#fff"/><path d="M724.4,917.7 L544.4,917.7 L544.4,1015.8 L724.4,1015.8" fill="none" stroke="#262626" stroke-width="1.3"/><line x1="724.4" y1="917.7" x2="724.4" y2="1015.8" stroke="#858585" stroke-width="1.2"/><line x1="550.0" y1="935.4" x2="603.2" y2="935.4" stroke="#f00" stroke-width="2"/><line x1="550.0" y1="966.6" x2="600.2" y2="966.6" stroke="#00f" stroke-width="2" stroke-dasharray="2 3.3"/><line x1="550.0" y1="997.7" x2="603.2" y2="997.7" stroke="#0ff" stroke-width="2.2" stroke-dasharray="13.4 7.5"/><g font-size="24" fill="#000"><text x="607.4" y="944.6">Reference</text><text x="607.4" y="975.9">AEDS</text><text x="607.4" y="1007.0">DPFT</text></g><rect x="101.0" y="911.6" width="576.50" height="441.80" fill="none" stroke="#262626" stroke-width="1.3"/><g stroke="#262626" stroke-width="1.3" fill="none"><line x1="101.00" y1="1353.4" x2="101.00" y2="1347.4"/><line x1="101.00" y1="911.6" x2="101.00" y2="917.6"/><line x1="245.12" y1="1353.4" x2="245.12" y2="1347.4"/><line x1="245.12" y1="911.6" x2="245.12" y2="917.6"/><line x1="389.25" y1="1353.4" x2="389.25" y2="1347.4"/><line x1="389.25" y1="911.6" x2="389.25" y2="917.6"/><line x1="533.38" y1="1353.4" x2="533.38" y2="1347.4"/><line x1="533.38" y1="911.6" x2="533.38" y2="917.6"/><line x1="677.50" y1="1353.4" x2="677.50" y2="1347.4"/><line x1="677.50" y1="911.6" x2="677.50" y2="917.6"/><line x1="101.0" y1="1353.40" x2="107.0" y2="1353.40"/><line x1="677.5" y1="1353.40" x2="671.5" y2="1353.40"/><line x1="101.0" y1="1242.95" x2="107.0" y2="1242.95"/><line x1="677.5" y1="1242.95" x2="671.5" y2="1242.95"/><line x1="101.0" y1="1132.50" x2="107.0" y2="1132.50"/><line x1="677.5" y1="1132.50" x2="671.5" y2="1132.50"/><line x1="101.0" y1="1022.05" x2="107.0" y2="1022.05"/><line x1="677.5" y1="1022.05" x2="671.5" y2="1022.05"/><line x1="101.0" y1="911.60" x2="107.0" y2="911.60"/><line x1="677.5" y1="911.60" x2="671.5" y2="911.60"/></g><g font-size="27" fill="#262626"><text transform="translate(101.00,1390.20) scale(1,1.035)" text-anchor="middle">0</text><text transform="translate(245.12,1390.20) scale(1,1.035)" text-anchor="middle">500</text><text transform="translate(389.25,1390.20) scale(1,1.035)" text-anchor="middle">1000</text><text transform="translate(533.38,1390.20) scale(1,1.035)" text-anchor="middle">1500</text><text transform="translate(677.50,1390.20) scale(1,1.035)" text-anchor="middle">2000</text><text transform="translate(92.60,1363.80) scale(1,1.035)" text-anchor="end">0</text><text transform="translate(92.60,1253.35) scale(1,1.035)" text-anchor="end">0.05</text><text transform="translate(92.60,1142.90) scale(1,1.035)" text-anchor="end">0.1</text><text transform="translate(92.60,1032.45) scale(1,1.035)" text-anchor="end">0.15</text><text transform="translate(92.60,922.00) scale(1,1.035)" text-anchor="end">0.2</text></g><text transform="translate(389.25,898.70) scale(1,1.03)" text-anchor="middle" font-size="29.4" fill="#000">90<tspan font-size="24" dy="-13.4">o</tspan><tspan dy="13.4">, horizontal profile</tspan></text><clipPath id="clBR"><rect x="841.7" y="909.6" width="576.5" height="443.80000000000007"/></clipPath><g clip-path="url(#clBR)"><polyline points="842.6,1324.4 845.6,1324.4 848.6,1330.4 851.7,1327.4 854.7,1324.4 857.7,1321.3 860.8,1333.5 863.8,1312.2 866.8,1303.1 869.9,1303.1 872.9,1312.2 875.9,1300.1 879.0,1312.2 880.5,1294.0 882.9,1284.9 885.0,1254.6 888.1,1233.4 891.1,1242.5 894.1,1263.7 896.2,1275.8 898.7,1263.7 901.7,1230.3 904.7,1193.9 907.8,1172.7 910.8,1160.5 913.8,1215.2 916.9,1178.7 919.9,1166.6 922.9,1163.6 926.0,1203.0 928.4,1233.4 930.5,1239.4 933.6,1257.6 936.6,1263.7 939.6,1284.9 942.7,1284.9 945.7,1266.7 948.7,1263.7 951.8,1242.5 954.8,1269.8 957.8,1288.0 960.9,1294.0 963.9,1284.9 968.4,1288.0 973.0,1291.0 976.0,1281.9 979.1,1248.5 981.2,1221.2 983.6,1263.7 986.6,1288.0 989.7,1309.2 992.7,1294.0 995.7,1233.4 998.2,1212.1 1000.3,1263.7 1003.3,1284.9 1005.1,1274.4 1007.6,1254.1 1010.2,1233.7 1012.7,1238.8 1015.2,1269.3 1017.8,1292.2 1020.3,1304.9 1022.9,1310.0 1025.4,1294.7 1027.9,1310.0 1030.5,1292.2 1033.0,1289.6 1036.8,1279.5 1040.7,1228.7 1043.2,1266.8 1045.7,1304.9 1048.3,1307.4 1050.8,1297.3 1054.6,1302.3 1058.4,1292.2 1062.2,1274.4 1066.1,1292.2 1068.6,1254.1 1072.4,1216.0 1076.2,1274.4 1081.3,1264.2 1084.6,1188.0 1088.9,1216.0 1092.7,1243.9 1095.3,1274.4 1097.8,1292.2 1101.6,1254.1 1106.7,1203.3 1111.8,1228.7 1115.6,1261.7 1119.4,1266.8 1124.5,1228.7 1128.3,1284.6 1132.1,1271.8 1137.2,1193.1 1141.0,1254.1 1146.1,1310.0 1152.4,1236.3 1158.8,1304.9 1165.1,1218.5 1168.8,1254.1 1171.4,1305.0 1173.9,1292.3 1176.4,1299.9 1179.0,1254.1 1182.8,1223.6 1185.3,1266.8 1187.9,1284.6 1190.4,1289.7 1193.0,1287.2 1196.8,1294.8 1200.6,1302.4 1203.1,1299.9 1206.9,1284.6 1210.7,1231.3 1214.6,1287.2 1218.4,1292.3 1220.9,1287.2 1224.7,1294.8 1228.5,1274.5 1232.3,1294.8 1236.2,1284.6 1240.0,1238.9 1243.8,1266.8 1247.6,1284.6 1251.4,1287.2 1255.2,1294.8 1259.0,1279.5 1261.6,1264.3 1264.1,1277.0 1266.7,1241.4 1269.2,1203.3 1273.8,1162.6 1276.8,1208.4 1278.6,1223.6 1281.9,1203.3 1285.7,1142.3 1288.3,1177.9 1290.8,1228.7 1293.3,1274.5 1297.2,1266.8 1299.7,1279.5 1303.5,1269.4 1306.0,1266.8 1309.9,1244.0 1313.7,1279.5 1316.2,1305.0 1318.8,1305.0 1322.6,1315.1 1326.4,1305.0 1330.2,1302.4 1334.0,1330.4 1337.8,1325.3 1340.4,1335.5 1342.9,1325.3 1345.4,1335.5 1348.0,1325.3 1350.5,1335.5 1353.1,1330.4 1355.6,1325.3 1358.1,1320.2 1360.7,1322.8" fill="none" stroke="#f00" stroke-width="2" stroke-linejoin="round"/><polyline points="842.6,1339.5 848.6,1342.6 854.7,1333.5 860.8,1342.6 866.8,1336.5 871.4,1330.4 877.4,1327.4 883.5,1330.4 888.1,1263.7 892.6,1342.6 895.6,1193.9 898.7,1048.3 901.7,1172.7 904.7,1081.7 907.8,1160.5 910.8,984.6 913.8,1172.7 916.9,1203.0 919.9,948.2 922.9,1142.3 926.0,1112.0 929.0,1172.7 932.0,1203.0 935.1,1257.6 938.1,1233.4 941.1,1263.7 944.2,1324.4 947.2,1230.3 950.2,1339.5 953.3,1263.7 956.3,1294.0 960.9,1263.7 965.4,1251.6 970.0,1315.3 974.5,1333.5 979.1,1227.3 983.6,1324.4 986.6,1233.4 989.7,1336.5 994.2,1263.7 998.2,1118.1 1001.8,1333.5 1005.1,1279.5 1008.9,1241.4 1012.7,1266.8 1016.5,1317.6 1020.3,1330.3 1025.4,1251.5 1027.9,1317.6 1031.8,1292.2 1034.3,1343.0 1038.1,1292.2 1044.5,1218.5 1048.3,1266.8 1050.8,1304.9 1054.6,1292.2 1058.4,1261.7 1061.0,1317.6 1064.8,1241.4 1068.6,1279.5 1073.7,1208.3 1077.5,1228.7 1080.0,1304.9 1082.6,1101.6 1085.1,1203.3 1087.7,1144.8 1090.2,1254.1 1094.0,1177.8 1097.8,1147.4 1100.4,1228.7 1102.9,1177.8 1106.7,1152.4 1111.8,1190.5 1115.6,1228.7 1119.4,1274.4 1124.5,1162.6 1127.0,1337.9 1129.6,1279.5 1133.4,1208.3 1137.2,1172.8 1141.0,1279.5 1144.8,1335.4 1149.9,1228.7 1155.0,1279.5 1157.0,1162.6 1160.1,1304.9 1165.1,1182.9 1170.1,1325.3 1173.9,1330.4 1177.7,1287.2 1181.5,1254.1 1185.3,1299.9 1189.1,1343.1 1193.0,1279.5 1196.8,1310.0 1200.6,1299.9 1204.4,1279.5 1208.2,1292.3 1213.3,1188.1 1215.8,1330.4 1219.6,1266.8 1224.0,1162.6 1226.0,1348.2 1229.8,1305.0 1233.6,1345.6 1237.4,1279.5 1240.7,1228.7 1243.8,1345.6 1247.6,1236.3 1251.4,1279.5 1256.5,1177.9 1260.3,1292.3 1264.1,1228.7 1267.9,1216.0 1271.7,1061.0 1276.8,1076.2 1279.4,1127.1 1281.9,1048.3 1284.4,1101.7 1289.5,1083.9 1292.1,1177.9 1294.6,1228.7 1297.2,1312.6 1301.0,1241.4 1303.5,1343.1 1306.0,1210.9 1308.6,1330.4 1312.4,1338.0 1317.5,1340.5 1327.6,1343.1 1337.8,1348.2 1348.0,1348.2 1360.7,1346.9" fill="none" stroke="#00f" stroke-width="2.2" stroke-dasharray="2 3.3" stroke-linejoin="round"/><polyline points="842.6,1336.5 847.1,1345.6 851.7,1339.5 856.2,1348.6 860.8,1351.7 865.3,1342.6 869.9,1339.5 874.4,1342.6 879.0,1351.7 882.0,1330.4 885.0,1309.2 888.1,1278.9 891.1,1248.5 895.6,1203.0 898.7,1127.2 901.7,1081.7 904.7,1078.6 907.8,1112.0 910.8,1005.8 913.8,999.8 916.9,1096.8 919.9,1093.8 922.9,1087.7 926.0,1081.7 929.0,1127.2 932.0,1148.4 935.1,1221.2 938.1,1269.8 942.7,1288.0 945.7,1275.8 948.7,1263.7 951.8,1339.5 954.8,1294.0 957.8,1212.1 960.9,1248.5 963.9,1278.9 968.4,1318.3 971.5,1348.6 976.0,1294.0 980.6,1263.7 983.6,1278.9 986.6,1303.1 989.7,1309.2 992.7,1275.8 995.7,1233.4 1000.3,1278.9 1003.3,1318.3 1007.6,1254.1 1011.4,1241.4 1015.2,1162.6 1017.8,1177.8 1020.3,1292.2 1022.9,1325.2 1026.7,1304.9 1031.8,1322.7 1036.8,1302.3 1040.7,1249.0 1044.5,1243.9 1048.3,1279.5 1052.1,1312.5 1055.9,1304.9 1059.7,1317.6 1063.5,1292.2 1067.3,1259.1 1071.1,1251.5 1074.9,1292.2 1078.8,1254.1 1082.6,1203.3 1085.1,1152.4 1087.7,1177.8 1091.5,1203.3 1095.3,1216.0 1099.1,1221.0 1101.6,1190.5 1104.2,1139.7 1106.7,1144.8 1111.8,1152.4 1115.6,1210.9 1119.4,1254.1 1124.5,1216.0 1128.3,1266.8 1132.1,1287.1 1137.2,1249.0 1142.3,1284.6 1146.1,1269.3 1151.2,1231.2 1156.2,1254.1 1160.1,1279.5 1165.1,1259.1 1168.8,1325.3 1172.6,1287.2 1177.7,1254.1 1182.8,1228.7 1186.6,1279.5 1190.4,1330.4 1195.5,1353.2 1199.3,1305.0 1204.4,1266.8 1209.5,1216.0 1213.3,1241.4 1217.1,1292.3 1222.2,1317.7 1226.0,1330.4 1231.1,1292.3 1236.2,1266.8 1240.0,1241.4 1243.8,1266.8 1247.6,1305.0 1251.4,1343.1 1255.2,1279.5 1259.0,1241.4 1262.8,1203.3 1266.7,1127.1 1271.7,1124.5 1274.8,1078.8 1278.1,1114.4 1281.9,1134.7 1285.7,1096.6 1289.5,1088.9 1293.3,1088.9 1295.9,1127.1 1298.4,1152.5 1302.2,1216.0 1306.0,1266.8 1308.6,1317.7 1312.4,1325.3 1317.5,1330.4 1322.6,1338.0 1327.6,1340.5 1332.7,1345.6 1340.4,1353.2 1348.0,1348.2 1360.7,1350.7" fill="none" stroke="#0ff" stroke-width="2.4" stroke-dasharray="13.4 7.5" stroke-linejoin="round"/></g><rect x="1286.5" y="916.2" width="179.90" height="98.30" fill="#fff"/><path d="M1466.4,916.2 L1286.5,916.2 L1286.5,1014.5 L1466.4,1014.5" fill="none" stroke="#262626" stroke-width="1.3"/><line x1="1466.4" y1="916.2" x2="1466.4" y2="1014.5" stroke="#858585" stroke-width="1.2"/><line x1="1292.1" y1="933.9" x2="1345.3" y2="933.9" stroke="#f00" stroke-width="2"/><line x1="1292.1" y1="965.1" x2="1342.3" y2="965.1" stroke="#00f" stroke-width="2" stroke-dasharray="2 3.3"/><line x1="1292.1" y1="996.2" x2="1345.3" y2="996.2" stroke="#0ff" stroke-width="2.2" stroke-dasharray="13.4 7.5"/><g font-size="24" fill="#000"><text x="1349.5" y="943.1">Reference</text><text x="1349.5" y="974.4">AEDS</text><text x="1349.5" y="1005.5">DPFT</text></g><rect x="841.7" y="911.6" width="576.50" height="441.80" fill="none" stroke="#262626" stroke-width="1.3"/><g stroke="#262626" stroke-width="1.3" fill="none"><line x1="841.70" y1="1353.4" x2="841.70" y2="1347.4"/><line x1="841.70" y1="911.6" x2="841.70" y2="917.6"/><line x1="985.83" y1="1353.4" x2="985.83" y2="1347.4"/><line x1="985.83" y1="911.6" x2="985.83" y2="917.6"/><line x1="1129.95" y1="1353.4" x2="1129.95" y2="1347.4"/><line x1="1129.95" y1="911.6" x2="1129.95" y2="917.6"/><line x1="1274.08" y1="1353.4" x2="1274.08" y2="1347.4"/><line x1="1274.08" y1="911.6" x2="1274.08" y2="917.6"/><line x1="1418.20" y1="1353.4" x2="1418.20" y2="1347.4"/><line x1="1418.20" y1="911.6" x2="1418.20" y2="917.6"/><line x1="841.7" y1="1353.40" x2="847.7" y2="1353.40"/><line x1="1418.2" y1="1353.40" x2="1412.2" y2="1353.40"/><line x1="841.7" y1="1242.95" x2="847.7" y2="1242.95"/><line x1="1418.2" y1="1242.95" x2="1412.2" y2="1242.95"/><line x1="841.7" y1="1132.50" x2="847.7" y2="1132.50"/><line x1="1418.2" y1="1132.50" x2="1412.2" y2="1132.50"/><line x1="841.7" y1="1022.05" x2="847.7" y2="1022.05"/><line x1="1418.2" y1="1022.05" x2="1412.2" y2="1022.05"/><line x1="841.7" y1="911.60" x2="847.7" y2="911.60"/><line x1="1418.2" y1="911.60" x2="1412.2" y2="911.60"/></g><g font-size="27" fill="#262626"><text transform="translate(841.70,1390.20) scale(1,1.035)" text-anchor="middle">0</text><text transform="translate(985.83,1390.20) scale(1,1.035)" text-anchor="middle">100</text><text transform="translate(1129.95,1390.20) scale(1,1.035)" text-anchor="middle">200</text><text transform="translate(1274.08,1390.20) scale(1,1.035)" text-anchor="middle">300</text><text transform="translate(1418.20,1390.20) scale(1,1.035)" text-anchor="middle">400</text><text transform="translate(833.30,1363.80) scale(1,1.035)" text-anchor="end">0</text><text transform="translate(833.30,1253.35) scale(1,1.035)" text-anchor="end">0.1</text><text transform="translate(833.30,1142.90) scale(1,1.035)" text-anchor="end">0.2</text><text transform="translate(833.30,1032.45) scale(1,1.035)" text-anchor="end">0.3</text><text transform="translate(833.30,922.00) scale(1,1.035)" text-anchor="end">0.4</text></g><text transform="translate(1129.95,898.70) scale(1,1.03)" text-anchor="middle" font-size="29.4" fill="#000">90<tspan font-size="24" dy="-13.4">o</tspan><tspan dy="13.4">, vertical profile</tspan></text></svg></body></html>
